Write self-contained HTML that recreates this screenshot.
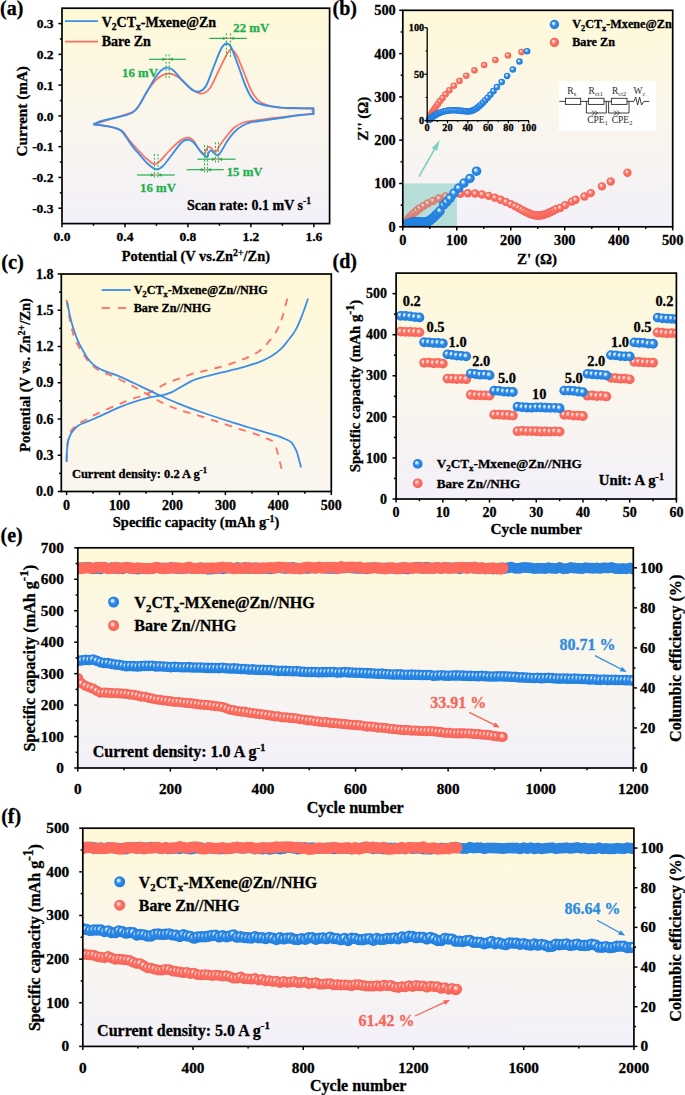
<!DOCTYPE html>
<html><head><meta charset="utf-8"><style>
html,body{margin:0;padding:0;background:#fff;width:685px;height:1095px;overflow:hidden}
svg{display:block}
text{font-family:"Liberation Serif", serif}
</style></head><body>
<svg width="685" height="1095" viewBox="0 0 685 1095">
<defs>
<linearGradient id="gA" x1="0" y1="0" x2="0" y2="1"><stop offset="0" stop-color="#FFF9D8"/><stop offset="0.5" stop-color="#FAF6EC"/><stop offset="1" stop-color="#F3F0FA"/></linearGradient>
<linearGradient id="gC" x1="0" y1="0" x2="0" y2="1"><stop offset="0" stop-color="#FFF8D6"/><stop offset="1" stop-color="#FAF6F0"/></linearGradient>
<radialGradient id="mB" cx="0.5" cy="0.5" r="0.5" fx="0.36" fy="0.34"><stop offset="0" stop-color="#F4FAFF"/><stop offset="0.22" stop-color="#BFDFFF"/><stop offset="0.5" stop-color="#2E8AE6"/><stop offset="1" stop-color="#1F7DDC"/></radialGradient>
<radialGradient id="mR" cx="0.5" cy="0.5" r="0.5" fx="0.36" fy="0.34"><stop offset="0" stop-color="#FFF4F2"/><stop offset="0.22" stop-color="#FFC8C0"/><stop offset="0.5" stop-color="#FF6F62"/><stop offset="1" stop-color="#F2645A"/></radialGradient>
</defs>
<rect x="62" y="8.2" width="267.6" height="215.4" fill="url(#gA)"/>
<path d="M94 124.5 C96.83 123.58 104.5 121.12 111 119 C117.5 116.88 128.17 114.3 133 111.8 C137.83 109.3 137.5 107.63 140 104 C142.5 100.37 145 94.33 148 90 C151 85.67 154.6 80.72 158 78 C161.4 75.28 165.07 73.87 168.4 73.7 C171.73 73.53 174.4 74.62 178 77 C181.6 79.38 186.13 85.23 190 88 C193.87 90.77 197.87 93.6 201.2 93.6 C204.53 93.6 207.03 91.93 210 88 C212.97 84.07 216.33 75.33 219 70 C221.67 64.67 224.08 59.4 226 56 C227.92 52.6 228.83 49.93 230.5 49.6 C232.17 49.27 233.92 50.6 236 54 C238.08 57.4 240.33 63.67 243 70 C245.67 76.33 248.83 86.5 252 92 C255.17 97.5 257 100.33 262 103 C267 105.67 273.58 107.07 282 108 C290.42 108.93 307.42 108.5 312.5 108.6 L312.5 113.8 C307.42 114.33 291.08 115.97 282 117 C272.92 118.03 264.17 119.17 258 120 C251.83 120.83 248.83 120.83 245 122 C241.17 123.17 238.17 124.5 235 127 C231.83 129.5 228.5 134 226 137 C223.5 140 221.72 142.52 220 145 C218.28 147.48 217.2 151.4 215.7 151.9 C214.2 152.4 212.2 148.85 211 148 C209.8 147.15 209.33 146.47 208.5 146.8 C207.67 147.13 206.68 148.8 206 150 C205.32 151.2 205.73 154.33 204.4 154 C203.07 153.67 199.73 150.17 198 148 C196.27 145.83 195.65 142.73 194 141 C192.35 139.27 190.27 137.77 188.1 137.6 C185.93 137.43 184.02 137.93 181 140 C177.98 142.07 173.33 146.67 170 150 C166.67 153.33 163.6 157.63 161 160 C158.4 162.37 156.73 164.37 154.4 164.2 C152.07 164.03 149.73 161.37 147 159 C144.27 156.63 140.83 153 138 150 C135.17 147 132.67 144.17 130 141 C127.33 137.83 125 133.33 122 131 C119 128.67 116.67 128.08 112 127 C107.33 125.92 97 124.92 94 124.5" fill="none" stroke="#FF6F61" stroke-width="1.7" stroke-linejoin="round"/>
<path d="M93.2 124.3 C94.33 123.83 97.05 122.43 100 121.5 C102.95 120.57 107.23 119.58 110.9 118.7 C114.57 117.82 118.38 117.23 122 116.2 C125.62 115.17 129.77 114.28 132.6 112.5 C135.43 110.72 136.73 108.75 139 105.5 C141.27 102.25 143.53 97.58 146.2 93 C148.87 88.42 152.53 81.75 155 78 C157.47 74.25 159.03 72.23 161 70.5 C162.97 68.77 164.8 67.68 166.8 67.6 C168.8 67.52 170.47 67.93 173 70 C175.53 72.07 178.7 76.62 182 80 C185.3 83.38 189.93 88.38 192.8 90.3 C195.67 92.22 197 92.22 199.2 91.5 C201.4 90.78 203.53 90.25 206 86 C208.47 81.75 211.5 72.17 214 66 C216.5 59.83 218.93 52.75 221 49 C223.07 45.25 224.73 43.83 226.4 43.5 C228.07 43.17 229.07 43.42 231 47 C232.93 50.58 235.5 58.33 238 65 C240.5 71.67 243.43 81.17 246 87 C248.57 92.83 250.73 97.08 253.4 100 C256.07 102.92 257.23 103.23 262 104.5 C266.77 105.77 275.67 107 282 107.6 C288.33 108.2 294.73 108 300 108.1 C305.27 108.2 311.33 108.18 313.6 108.2 L313.6 114 C311.33 114.17 305.27 114.37 300 115 C294.73 115.63 287.83 116.92 282 117.8 C276.17 118.68 270.12 119.57 265 120.3 C259.88 121.03 255.13 121.25 251.3 122.2 C247.47 123.15 244.72 124.47 242 126 C239.28 127.53 237.33 129.07 235 131.4 C232.67 133.73 230.17 136.9 228 140 C225.83 143.1 223.67 147.42 222 150 C220.33 152.58 219.33 155 218 155.5 C216.67 156 215.22 153.85 214 153 C212.78 152.15 211.62 150.4 210.7 150.4 C209.78 150.4 209.12 151.9 208.5 153 C207.88 154.1 208.25 157.17 207 157 C205.75 156.83 203 154.17 201 152 C199 149.83 197.03 146.02 195 144 C192.97 141.98 190.97 140.23 188.8 139.9 C186.63 139.57 184.85 139.48 182 142 C179.15 144.52 174.87 151 171.7 155 C168.53 159 165.55 163.62 163 166 C160.45 168.38 158.9 169.63 156.4 169.3 C153.9 168.97 150.73 166.38 148 164 C145.27 161.62 142.52 157.87 140 155 C137.48 152.13 135.23 149.8 132.9 146.8 C130.57 143.8 128.03 139.73 126 137 C123.97 134.27 123.37 132.1 120.7 130.4 C118.03 128.7 114.6 127.82 110 126.8 C105.4 125.78 95.92 124.72 93.1 124.3" fill="none" stroke="#3A8EE6" stroke-width="1.9" stroke-linejoin="round"/>
<line x1="149" y1="59.3" x2="166" y2="59.3" stroke="#22B14C" stroke-width="1.2"/>
<line x1="169.2" y1="59.3" x2="186" y2="59.3" stroke="#22B14C" stroke-width="1.2"/>
<line x1="166" y1="59.3" x2="169.2" y2="59.3" stroke="#F07070" stroke-width="1.2"/>
<path d="M166 59.3 L162.4 57.6 L162.4 61 Z" fill="#22B14C"/>
<path d="M169.2 59.3 L172.8 57.6 L172.8 61 Z" fill="#22B14C"/>
<line x1="166" y1="54.5" x2="166" y2="78.5" stroke="#22B14C" stroke-width="1" stroke-dasharray="2 1.6"/>
<line x1="169.2" y1="54.5" x2="169.2" y2="78.5" stroke="#22B14C" stroke-width="1" stroke-dasharray="2 1.6"/>
<text x="122" y="77" font-size="12.8" text-anchor="start" fill="#22B14C" font-weight="bold" stroke="#22B14C" stroke-width="0.3">16 mV</text>
<line x1="209.4" y1="38.4" x2="226.4" y2="38.4" stroke="#22B14C" stroke-width="1.2"/>
<line x1="230.5" y1="38.4" x2="246.8" y2="38.4" stroke="#22B14C" stroke-width="1.2"/>
<line x1="226.4" y1="38.4" x2="230.5" y2="38.4" stroke="#F07070" stroke-width="1.2"/>
<path d="M226.4 38.4 L222.8 36.7 L222.8 40.1 Z" fill="#22B14C"/>
<path d="M230.5 38.4 L234.1 36.7 L234.1 40.1 Z" fill="#22B14C"/>
<line x1="226.4" y1="33.3" x2="226.4" y2="57.8" stroke="#22B14C" stroke-width="1" stroke-dasharray="2 1.6"/>
<line x1="230.5" y1="33.3" x2="230.5" y2="57.8" stroke="#22B14C" stroke-width="1" stroke-dasharray="2 1.6"/>
<text x="233.3" y="31.9" font-size="12.8" text-anchor="start" fill="#22B14C" font-weight="bold" stroke="#22B14C" stroke-width="0.3">22 mV</text>
<line x1="137" y1="175" x2="154.4" y2="175" stroke="#22B14C" stroke-width="1.2"/>
<line x1="158" y1="175" x2="174.8" y2="175" stroke="#22B14C" stroke-width="1.2"/>
<line x1="154.4" y1="175" x2="158" y2="175" stroke="#F07070" stroke-width="1.2"/>
<path d="M154.4 175 L150.8 173.3 L150.8 176.7 Z" fill="#22B14C"/>
<path d="M158 175 L161.6 173.3 L161.6 176.7 Z" fill="#22B14C"/>
<line x1="154.4" y1="154" x2="154.4" y2="178.5" stroke="#22B14C" stroke-width="1" stroke-dasharray="2 1.6"/>
<line x1="158" y1="154" x2="158" y2="178.5" stroke="#22B14C" stroke-width="1" stroke-dasharray="2 1.6"/>
<text x="140" y="191.7" font-size="12.8" text-anchor="start" fill="#22B14C" font-weight="bold" stroke="#22B14C" stroke-width="0.3">16 mV</text>
<line x1="197.5" y1="159.2" x2="215.5" y2="159.2" stroke="#22B14C" stroke-width="1.2"/>
<line x1="218.4" y1="159.2" x2="235.5" y2="159.2" stroke="#22B14C" stroke-width="1.2"/>
<line x1="215.5" y1="159.2" x2="218.4" y2="159.2" stroke="#F07070" stroke-width="1.2"/>
<path d="M215.5 159.2 L211.9 157.5 L211.9 160.9 Z" fill="#22B14C"/>
<path d="M218.4 159.2 L222 157.5 L222 160.9 Z" fill="#22B14C"/>
<line x1="215.5" y1="142.4" x2="215.5" y2="162.8" stroke="#22B14C" stroke-width="1" stroke-dasharray="2 1.6"/>
<line x1="218.4" y1="142.4" x2="218.4" y2="162.8" stroke="#22B14C" stroke-width="1" stroke-dasharray="2 1.6"/>
<line x1="186.6" y1="169.7" x2="204.5" y2="169.7" stroke="#22B14C" stroke-width="1.2"/>
<line x1="207.4" y1="169.7" x2="223.8" y2="169.7" stroke="#22B14C" stroke-width="1.2"/>
<line x1="204.5" y1="169.7" x2="207.4" y2="169.7" stroke="#F07070" stroke-width="1.2"/>
<path d="M204.5 169.7 L200.9 168 L200.9 171.4 Z" fill="#22B14C"/>
<path d="M207.4 169.7 L211 168 L211 171.4 Z" fill="#22B14C"/>
<line x1="204.5" y1="145.3" x2="204.5" y2="173.8" stroke="#22B14C" stroke-width="1" stroke-dasharray="2 1.6"/>
<line x1="207.4" y1="145.3" x2="207.4" y2="173.8" stroke="#22B14C" stroke-width="1" stroke-dasharray="2 1.6"/>
<text x="226.7" y="175.5" font-size="12.8" text-anchor="start" fill="#22B14C" font-weight="bold" stroke="#22B14C" stroke-width="0.3">15 mV</text>
<line x1="65" y1="21.1" x2="98" y2="21.1" stroke="#3A8EE6" stroke-width="1.9"/>
<text x="101.7" y="26.8" font-size="14" text-anchor="start" fill="#000" font-weight="bold" stroke="#000" stroke-width="0.3">V<tspan dy="3.08" font-size="9.52">2</tspan><tspan dy="-3.08">CT</tspan><tspan dy="3.08" font-size="9.52">x</tspan><tspan dy="-3.08">-Mxene@Zn</tspan></text>
<line x1="65" y1="41.7" x2="98" y2="41.7" stroke="#FF6F61" stroke-width="1.8"/>
<text x="101.7" y="46.3" font-size="14" text-anchor="start" fill="#000" font-weight="bold" stroke="#000" stroke-width="0.3">Bare Zn</text>
<text x="187" y="209.7" font-size="14" text-anchor="start" fill="#000" font-weight="bold" stroke="#000" stroke-width="0.3">Scan rate: 0.1 mV s<tspan dy="-5.32" font-size="9.52">-1</tspan><tspan dy="5.32"></tspan></text>
<rect x="62" y="8.2" width="267.6" height="215.4" fill="none" stroke="#000" stroke-width="1.7"/>
<line x1="62" y1="208.21" x2="58.4" y2="208.21" stroke="#000" stroke-width="1.5"/>
<line x1="62" y1="177.44" x2="58.4" y2="177.44" stroke="#000" stroke-width="1.5"/>
<line x1="62" y1="146.67" x2="58.4" y2="146.67" stroke="#000" stroke-width="1.5"/>
<line x1="62" y1="115.9" x2="58.4" y2="115.9" stroke="#000" stroke-width="1.5"/>
<line x1="62" y1="85.13" x2="58.4" y2="85.13" stroke="#000" stroke-width="1.5"/>
<line x1="62" y1="54.36" x2="58.4" y2="54.36" stroke="#000" stroke-width="1.5"/>
<line x1="62" y1="23.59" x2="58.4" y2="23.59" stroke="#000" stroke-width="1.5"/>
<line x1="62" y1="192.83" x2="59.8" y2="192.83" stroke="#000" stroke-width="1.5"/>
<line x1="62" y1="162.06" x2="59.8" y2="162.06" stroke="#000" stroke-width="1.5"/>
<line x1="62" y1="131.29" x2="59.8" y2="131.29" stroke="#000" stroke-width="1.5"/>
<line x1="62" y1="100.51" x2="59.8" y2="100.51" stroke="#000" stroke-width="1.5"/>
<line x1="62" y1="69.74" x2="59.8" y2="69.74" stroke="#000" stroke-width="1.5"/>
<line x1="62" y1="38.97" x2="59.8" y2="38.97" stroke="#000" stroke-width="1.5"/>
<line x1="62" y1="223.6" x2="62" y2="227.2" stroke="#000" stroke-width="1.5"/>
<line x1="124.96" y1="223.6" x2="124.96" y2="227.2" stroke="#000" stroke-width="1.5"/>
<line x1="187.93" y1="223.6" x2="187.93" y2="227.2" stroke="#000" stroke-width="1.5"/>
<line x1="250.89" y1="223.6" x2="250.89" y2="227.2" stroke="#000" stroke-width="1.5"/>
<line x1="313.86" y1="223.6" x2="313.86" y2="227.2" stroke="#000" stroke-width="1.5"/>
<line x1="93.48" y1="223.6" x2="93.48" y2="225.8" stroke="#000" stroke-width="1.5"/>
<line x1="156.45" y1="223.6" x2="156.45" y2="225.8" stroke="#000" stroke-width="1.5"/>
<line x1="219.41" y1="223.6" x2="219.41" y2="225.8" stroke="#000" stroke-width="1.5"/>
<line x1="282.38" y1="223.6" x2="282.38" y2="225.8" stroke="#000" stroke-width="1.5"/>
<text x="53.5" y="212.81" font-size="13.5" text-anchor="end" fill="#000" font-weight="bold" stroke="#000" stroke-width="0.3">-0.3</text>
<text x="53.5" y="182.04" font-size="13.5" text-anchor="end" fill="#000" font-weight="bold" stroke="#000" stroke-width="0.3">-0.2</text>
<text x="53.5" y="151.27" font-size="13.5" text-anchor="end" fill="#000" font-weight="bold" stroke="#000" stroke-width="0.3">-0.1</text>
<text x="53.5" y="120.5" font-size="13.5" text-anchor="end" fill="#000" font-weight="bold" stroke="#000" stroke-width="0.3">0.0</text>
<text x="53.5" y="89.73" font-size="13.5" text-anchor="end" fill="#000" font-weight="bold" stroke="#000" stroke-width="0.3">0.1</text>
<text x="53.5" y="58.96" font-size="13.5" text-anchor="end" fill="#000" font-weight="bold" stroke="#000" stroke-width="0.3">0.2</text>
<text x="53.5" y="28.19" font-size="13.5" text-anchor="end" fill="#000" font-weight="bold" stroke="#000" stroke-width="0.3">0.3</text>
<text x="62" y="241.3" font-size="13.5" text-anchor="middle" fill="#000" font-weight="bold" stroke="#000" stroke-width="0.3">0.0</text>
<text x="124.96" y="241.3" font-size="13.5" text-anchor="middle" fill="#000" font-weight="bold" stroke="#000" stroke-width="0.3">0.4</text>
<text x="187.93" y="241.3" font-size="13.5" text-anchor="middle" fill="#000" font-weight="bold" stroke="#000" stroke-width="0.3">0.8</text>
<text x="250.89" y="241.3" font-size="13.5" text-anchor="middle" fill="#000" font-weight="bold" stroke="#000" stroke-width="0.3">1.2</text>
<text x="313.86" y="241.3" font-size="13.5" text-anchor="middle" fill="#000" font-weight="bold" stroke="#000" stroke-width="0.3">1.6</text>
<text x="27.3" y="111.3" font-size="15.2" text-anchor="middle" fill="#000" font-weight="bold" stroke="#000" stroke-width="0.3" transform="rotate(-90 27.3 111.3)">Current (mA)</text>
<text x="195.9" y="261.2" font-size="14.4" text-anchor="middle" fill="#000" font-weight="bold" stroke="#000" stroke-width="0.3">Potential (V vs.Zn<tspan dy="-5.47" font-size="9.79">2+</tspan><tspan dy="5.47">/Zn)</tspan></text>
<text x="0" y="14.6" font-size="20" text-anchor="start" fill="#000" font-weight="bold" stroke="#000" stroke-width="0.3">(a)</text>
<rect x="402.8" y="10.3" width="269.9" height="216.5" fill="url(#gA)"/>
<clipPath id="cpB"><rect x="402.8" y="10.3" width="269.9" height="216.5"/></clipPath>
<g clip-path="url(#cpB)">
<rect x="402.8" y="183.5" width="53.98" height="43.3" fill="#C9E4E0"/>
<g fill="url(#mR)">
<circle cx="404.38" cy="224.59" r="4.2"/>
<circle cx="404.64" cy="224.21" r="4.2"/>
<circle cx="404.94" cy="223.77" r="4.2"/>
<circle cx="405.3" cy="223.24" r="4.2"/>
<circle cx="405.73" cy="222.63" r="4.2"/>
<circle cx="406.25" cy="221.91" r="4.2"/>
<circle cx="406.87" cy="221.07" r="4.2"/>
<circle cx="407.61" cy="220.1" r="4.2"/>
<circle cx="408.51" cy="218.98" r="4.2"/>
<circle cx="409.61" cy="217.68" r="4.2"/>
<circle cx="410.94" cy="216.2" r="4.2"/>
<circle cx="412.57" cy="214.52" r="4.2"/>
<circle cx="414.57" cy="212.63" r="4.2"/>
<circle cx="417" cy="210.54" r="4.2"/>
<circle cx="419.98" cy="208.26" r="4.2"/>
<circle cx="423.59" cy="205.85" r="4.2"/>
<circle cx="427.93" cy="203.35" r="4.2"/>
<circle cx="433.08" cy="200.87" r="4.2"/>
<circle cx="439.05" cy="198.52" r="4.2"/>
<circle cx="445.76" cy="196.46" r="4.2"/>
<circle cx="452.99" cy="194.82" r="4.2"/>
<circle cx="460.44" cy="193.74" r="4.2"/>
<circle cx="467.87" cy="193.31" r="4.2"/>
<circle cx="475.09" cy="193.55" r="4.2"/>
<circle cx="482.03" cy="194.43" r="4.2"/>
<circle cx="488.65" cy="195.85" r="4.2"/>
<circle cx="494.88" cy="197.67" r="4.2"/>
<circle cx="500.67" cy="199.74" r="4.2"/>
<circle cx="505.96" cy="201.92" r="4.2"/>
<circle cx="510.71" cy="204.09" r="4.2"/>
<circle cx="514.91" cy="206.15" r="4.2"/>
<circle cx="518.57" cy="208.04" r="4.2"/>
<circle cx="521.75" cy="209.74" r="4.2"/>
<circle cx="524.53" cy="211.2" r="4.2"/>
<circle cx="526.97" cy="212.44" r="4.2"/>
<circle cx="529.15" cy="213.45" r="4.2"/>
<circle cx="531.13" cy="214.25" r="4.2"/>
<circle cx="532.96" cy="214.85" r="4.2"/>
<circle cx="534.69" cy="215.26" r="4.2"/>
<circle cx="536.36" cy="215.49" r="4.2"/>
<circle cx="537.98" cy="215.57" r="4.2"/>
<circle cx="539.59" cy="215.5" r="4.2"/>
<circle cx="541.21" cy="215.29" r="4.2"/>
<circle cx="542.86" cy="214.94" r="4.2"/>
<circle cx="544.54" cy="214.47" r="4.2"/>
<circle cx="546.28" cy="213.88" r="4.2"/>
<circle cx="548.09" cy="213.16" r="4.2"/>
<circle cx="550" cy="212.32" r="4.2"/>
<circle cx="552.01" cy="211.37" r="4.2"/>
<circle cx="554.17" cy="210.28" r="4.2"/>
<circle cx="556.51" cy="209.07" r="4.2"/>
<circle cx="560.21" cy="208.01" r="4.2"/>
<circle cx="565.12" cy="205.11" r="4.2"/>
<circle cx="571.92" cy="201.6" r="4.2"/>
<circle cx="575.59" cy="199.82" r="4.2"/>
<circle cx="584.44" cy="196.53" r="4.2"/>
<circle cx="590.81" cy="193.11" r="4.2"/>
<circle cx="601.93" cy="186.4" r="4.2"/>
<circle cx="610.73" cy="181.51" r="4.2"/>
<circle cx="627.46" cy="172.68" r="4.2"/>
</g>
<rect x="402.8" y="183.5" width="53.98" height="43.3" fill="#7FC8BE" fill-opacity="0.25"/>
<g fill="url(#mB)">
<circle cx="403.79" cy="226.41" r="4.8"/>
<circle cx="403.85" cy="226.36" r="4.8"/>
<circle cx="403.91" cy="226.3" r="4.8"/>
<circle cx="403.99" cy="226.23" r="4.8"/>
<circle cx="404.07" cy="226.16" r="4.8"/>
<circle cx="404.17" cy="226.07" r="4.8"/>
<circle cx="404.28" cy="225.98" r="4.8"/>
<circle cx="404.41" cy="225.88" r="4.8"/>
<circle cx="404.55" cy="225.76" r="4.8"/>
<circle cx="404.72" cy="225.63" r="4.8"/>
<circle cx="404.91" cy="225.49" r="4.8"/>
<circle cx="405.12" cy="225.33" r="4.8"/>
<circle cx="405.37" cy="225.16" r="4.8"/>
<circle cx="405.65" cy="224.97" r="4.8"/>
<circle cx="405.96" cy="224.77" r="4.8"/>
<circle cx="406.32" cy="224.55" r="4.8"/>
<circle cx="406.72" cy="224.33" r="4.8"/>
<circle cx="407.17" cy="224.09" r="4.8"/>
<circle cx="407.68" cy="223.84" r="4.8"/>
<circle cx="408.24" cy="223.58" r="4.8"/>
<circle cx="408.86" cy="223.33" r="4.8"/>
<circle cx="409.54" cy="223.08" r="4.8"/>
<circle cx="410.28" cy="222.84" r="4.8"/>
<circle cx="411.08" cy="222.62" r="4.8"/>
<circle cx="411.93" cy="222.42" r="4.8"/>
<circle cx="412.83" cy="222.25" r="4.8"/>
<circle cx="413.76" cy="222.12" r="4.8"/>
<circle cx="414.72" cy="222.02" r="4.8"/>
<circle cx="415.69" cy="221.96" r="4.8"/>
<circle cx="416.67" cy="221.94" r="4.8"/>
<circle cx="417.63" cy="221.95" r="4.8"/>
<circle cx="418.58" cy="222" r="4.8"/>
<circle cx="419.5" cy="222.06" r="4.8"/>
<circle cx="420.38" cy="222.14" r="4.8"/>
<circle cx="421.22" cy="222.23" r="4.8"/>
<circle cx="422.03" cy="222.31" r="4.8"/>
<circle cx="422.79" cy="222.38" r="4.8"/>
<circle cx="423.52" cy="222.43" r="4.8"/>
<circle cx="424.22" cy="222.45" r="4.8"/>
<circle cx="424.9" cy="222.44" r="4.8"/>
<circle cx="425.56" cy="222.37" r="4.8"/>
<circle cx="426.21" cy="222.26" r="4.8"/>
<circle cx="426.87" cy="222.08" r="4.8"/>
<circle cx="427.54" cy="221.83" r="4.8"/>
<circle cx="428.23" cy="221.5" r="4.8"/>
<circle cx="428.96" cy="221.09" r="4.8"/>
<circle cx="429.75" cy="220.58" r="4.8"/>
<circle cx="430.59" cy="219.96" r="4.8"/>
<circle cx="431.52" cy="219.22" r="4.8"/>
<circle cx="432.54" cy="218.34" r="4.8"/>
<circle cx="433.68" cy="217.31" r="4.8"/>
<circle cx="434.96" cy="216.1" r="4.8"/>
<circle cx="436.4" cy="214.68" r="4.8"/>
<circle cx="438.02" cy="213.04" r="4.8"/>
<circle cx="439.87" cy="211.14" r="4.8"/>
<circle cx="443.61" cy="204.98" r="4.8"/>
<circle cx="446.69" cy="201.9" r="4.8"/>
<circle cx="449.98" cy="198.31" r="4.8"/>
<circle cx="454.08" cy="193.2" r="4.8"/>
<circle cx="458.67" cy="188.13" r="4.8"/>
<circle cx="463.96" cy="183.02" r="4.8"/>
<circle cx="469.95" cy="178.43" r="4.8"/>
<circle cx="476.54" cy="171.2" r="4.8"/>
</g>
</g>
<line x1="419" y1="176.7" x2="435.5" y2="147.5" stroke="#80D0C0" stroke-width="1.6"/>
<path d="M439.8 139.9 L431.9 148.1 L437.2 150.7 Z" fill="#80D0C0"/>
<g fill="url(#mR)">
<circle cx="430.18" cy="115.96" r="3.3"/>
<circle cx="430.66" cy="115.14" r="3.3"/>
<circle cx="431.23" cy="114.18" r="3.3"/>
<circle cx="431.91" cy="113.06" r="3.3"/>
<circle cx="432.72" cy="111.74" r="3.3"/>
<circle cx="433.69" cy="110.2" r="3.3"/>
<circle cx="434.85" cy="108.4" r="3.3"/>
<circle cx="436.25" cy="106.31" r="3.3"/>
<circle cx="437.95" cy="103.9" r="3.3"/>
<circle cx="440.01" cy="101.11" r="3.3"/>
<circle cx="442.51" cy="97.93" r="3.3"/>
<circle cx="445.58" cy="94.32" r="3.3"/>
<circle cx="449.33" cy="90.26" r="3.3"/>
<circle cx="453.91" cy="85.77" r="3.3"/>
<circle cx="459.5" cy="80.89" r="3.3"/>
<circle cx="466.28" cy="75.7" r="3.3"/>
<circle cx="474.45" cy="70.33" r="3.3"/>
<circle cx="484.14" cy="65" r="3.3"/>
<circle cx="495.37" cy="59.96" r="3.3"/>
<circle cx="507.97" cy="55.52" r="3.3"/>
<circle cx="521.56" cy="52.01" r="3.3"/>
</g>
<g fill="url(#mB)">
<circle cx="429.06" cy="119.86" r="3.3"/>
<circle cx="429.17" cy="119.75" r="3.3"/>
<circle cx="429.29" cy="119.62" r="3.3"/>
<circle cx="429.43" cy="119.48" r="3.3"/>
<circle cx="429.59" cy="119.32" r="3.3"/>
<circle cx="429.78" cy="119.14" r="3.3"/>
<circle cx="429.99" cy="118.94" r="3.3"/>
<circle cx="430.23" cy="118.72" r="3.3"/>
<circle cx="430.5" cy="118.47" r="3.3"/>
<circle cx="430.81" cy="118.19" r="3.3"/>
<circle cx="431.16" cy="117.88" r="3.3"/>
<circle cx="431.57" cy="117.54" r="3.3"/>
<circle cx="432.03" cy="117.18" r="3.3"/>
<circle cx="432.55" cy="116.77" r="3.3"/>
<circle cx="433.14" cy="116.34" r="3.3"/>
<circle cx="433.81" cy="115.88" r="3.3"/>
<circle cx="434.57" cy="115.39" r="3.3"/>
<circle cx="435.42" cy="114.87" r="3.3"/>
<circle cx="436.37" cy="114.34" r="3.3"/>
<circle cx="437.42" cy="113.79" r="3.3"/>
<circle cx="438.59" cy="113.25" r="3.3"/>
<circle cx="439.87" cy="112.71" r="3.3"/>
<circle cx="441.27" cy="112.2" r="3.3"/>
<circle cx="442.77" cy="111.72" r="3.3"/>
<circle cx="444.37" cy="111.3" r="3.3"/>
<circle cx="446.05" cy="110.94" r="3.3"/>
<circle cx="447.81" cy="110.65" r="3.3"/>
<circle cx="449.61" cy="110.44" r="3.3"/>
<circle cx="451.44" cy="110.31" r="3.3"/>
<circle cx="453.28" cy="110.26" r="3.3"/>
<circle cx="455.09" cy="110.29" r="3.3"/>
<circle cx="456.87" cy="110.39" r="3.3"/>
<circle cx="458.59" cy="110.53" r="3.3"/>
<circle cx="460.25" cy="110.7" r="3.3"/>
<circle cx="461.84" cy="110.89" r="3.3"/>
<circle cx="463.35" cy="111.06" r="3.3"/>
<circle cx="464.79" cy="111.22" r="3.3"/>
<circle cx="466.16" cy="111.32" r="3.3"/>
<circle cx="467.48" cy="111.37" r="3.3"/>
<circle cx="468.75" cy="111.33" r="3.3"/>
<circle cx="469.99" cy="111.19" r="3.3"/>
<circle cx="471.22" cy="110.94" r="3.3"/>
<circle cx="472.46" cy="110.56" r="3.3"/>
<circle cx="473.72" cy="110.03" r="3.3"/>
<circle cx="475.02" cy="109.33" r="3.3"/>
<circle cx="476.4" cy="108.44" r="3.3"/>
<circle cx="477.87" cy="107.35" r="3.3"/>
<circle cx="479.46" cy="106.02" r="3.3"/>
<circle cx="481.2" cy="104.43" r="3.3"/>
<circle cx="483.12" cy="102.54" r="3.3"/>
<circle cx="485.26" cy="100.31" r="3.3"/>
<circle cx="487.66" cy="97.71" r="3.3"/>
<circle cx="490.37" cy="94.68" r="3.3"/>
<circle cx="493.43" cy="91.15" r="3.3"/>
<circle cx="496.91" cy="87.07" r="3.3"/>
<circle cx="501.7" cy="82.11" r="3.3"/>
<circle cx="507.18" cy="75.97" r="3.3"/>
<circle cx="512.87" cy="69.55" r="3.3"/>
<circle cx="519.46" cy="61.55" r="3.3"/>
<circle cx="527.08" cy="51.23" r="3.3"/>
</g>
<path d="M427.2 27.7 L427.2 120.7 L529 120.7" fill="none" stroke="#000" stroke-width="1.3"/>
<line x1="427.2" y1="120.7" x2="424.4" y2="120.7" stroke="#000" stroke-width="1.2"/>
<text x="424.2" y="124.2" font-size="10.3" text-anchor="end" fill="#000" font-weight="bold" stroke="#000" stroke-width="0.3">0</text>
<line x1="427.2" y1="74.2" x2="424.4" y2="74.2" stroke="#000" stroke-width="1.2"/>
<text x="424.2" y="77.7" font-size="10.3" text-anchor="end" fill="#000" font-weight="bold" stroke="#000" stroke-width="0.3">50</text>
<line x1="427.2" y1="27.7" x2="424.4" y2="27.7" stroke="#000" stroke-width="1.2"/>
<text x="424.2" y="31.2" font-size="10.3" text-anchor="end" fill="#000" font-weight="bold" stroke="#000" stroke-width="0.3">100</text>
<line x1="427.2" y1="97.45" x2="425.5" y2="97.45" stroke="#000" stroke-width="1"/>
<line x1="427.2" y1="50.95" x2="425.5" y2="50.95" stroke="#000" stroke-width="1"/>
<line x1="427.2" y1="120.7" x2="427.2" y2="123.3" stroke="#000" stroke-width="1.2"/>
<text x="427.2" y="131.2" font-size="10.3" text-anchor="middle" fill="#000" font-weight="bold" stroke="#000" stroke-width="0.3">0</text>
<line x1="447.5" y1="120.7" x2="447.5" y2="123.3" stroke="#000" stroke-width="1.2"/>
<text x="447.5" y="131.2" font-size="10.3" text-anchor="middle" fill="#000" font-weight="bold" stroke="#000" stroke-width="0.3">20</text>
<line x1="467.8" y1="120.7" x2="467.8" y2="123.3" stroke="#000" stroke-width="1.2"/>
<text x="467.8" y="131.2" font-size="10.3" text-anchor="middle" fill="#000" font-weight="bold" stroke="#000" stroke-width="0.3">40</text>
<line x1="488.1" y1="120.7" x2="488.1" y2="123.3" stroke="#000" stroke-width="1.2"/>
<text x="488.1" y="131.2" font-size="10.3" text-anchor="middle" fill="#000" font-weight="bold" stroke="#000" stroke-width="0.3">60</text>
<line x1="508.4" y1="120.7" x2="508.4" y2="123.3" stroke="#000" stroke-width="1.2"/>
<text x="508.4" y="131.2" font-size="10.3" text-anchor="middle" fill="#000" font-weight="bold" stroke="#000" stroke-width="0.3">80</text>
<line x1="528.7" y1="120.7" x2="528.7" y2="123.3" stroke="#000" stroke-width="1.2"/>
<text x="528.7" y="131.2" font-size="10.3" text-anchor="middle" fill="#000" font-weight="bold" stroke="#000" stroke-width="0.3">100</text>
<line x1="437.35" y1="120.7" x2="437.35" y2="122.2" stroke="#000" stroke-width="1"/>
<line x1="457.65" y1="120.7" x2="457.65" y2="122.2" stroke="#000" stroke-width="1"/>
<line x1="477.95" y1="120.7" x2="477.95" y2="122.2" stroke="#000" stroke-width="1"/>
<line x1="498.25" y1="120.7" x2="498.25" y2="122.2" stroke="#000" stroke-width="1"/>
<line x1="518.55" y1="120.7" x2="518.55" y2="122.2" stroke="#000" stroke-width="1"/>
<rect x="558.8" y="81.1" width="97.4" height="49.9" fill="#fff"/>
<g stroke="#2A2A2A" stroke-width="0.9" fill="none">
<path d="M559.3 101.4 H565.4 M580.7 101.4 H588.4 M604 101.4 H611.4 M627 101.4 H634 M643.9 101.4 H649.3"/>
<rect x="565.4" y="98.3" width="15.3" height="6.1"/>
<rect x="588.4" y="98.3" width="15.6" height="6.1"/>
<rect x="611.4" y="98.3" width="15.6" height="6.1"/>
<path d="M634 101.4 L635.6 97 L637.6 105 L639.6 97 L641.6 105 L643.9 101.4"/>
<path d="M586.4 101.4 V113 H606.3 V101.4 M608.6 101.4 V113 H629 V101.4"/>
<path d="M592 110.5 L594.5 113 L592 115.5 M595 110.5 L597.5 113 L595 115.5 M614 110.5 L616.5 113 L614 115.5 M617 110.5 L619.5 113 L617 115.5"/>
</g>
<text x="567.3" y="94.2" font-size="9.5" fill="#2A2A2A" font-weight="normal">R<tspan dy="2" font-size="6.5">s</tspan></text>
<text x="588.6" y="94.2" font-size="9.5" fill="#2A2A2A" font-weight="normal">R<tspan dy="2" font-size="6.5">ct1</tspan></text>
<text x="612" y="94.2" font-size="9.5" fill="#2A2A2A" font-weight="normal">R<tspan dy="2" font-size="6.5">ct2</tspan></text>
<text x="633.5" y="94.2" font-size="9.5" fill="#2A2A2A" font-weight="normal">W<tspan dy="2" font-size="6.5">c</tspan></text>
<text x="587.2" y="123.3" font-size="9.5" fill="#2A2A2A" font-weight="normal">CPE<tspan dy="2" font-size="6.5">1</tspan></text>
<text x="611.7" y="123.3" font-size="9.5" fill="#2A2A2A" font-weight="normal">CPE<tspan dy="2" font-size="6.5">2</tspan></text>
<circle cx="554.4" cy="24.5" r="4.7" fill="url(#mB)"/>
<circle cx="554.4" cy="42.5" r="4.7" fill="url(#mR)"/>
<text x="572.2" y="28.3" font-size="12.2" text-anchor="start" fill="#000" font-weight="bold" stroke="#000" stroke-width="0.3">V<tspan dy="2.68" font-size="8.3">2</tspan><tspan dy="-2.68">CT</tspan><tspan dy="2.68" font-size="8.3">x</tspan><tspan dy="-2.68">-Mxene@Zn</tspan></text>
<text x="572.2" y="46.3" font-size="12.2" text-anchor="start" fill="#000" font-weight="bold" stroke="#000" stroke-width="0.3">Bare Zn</text>
<rect x="402.8" y="10.3" width="269.9" height="216.5" fill="none" stroke="#000" stroke-width="1.7"/>
<line x1="402.8" y1="226.8" x2="399.2" y2="226.8" stroke="#000" stroke-width="1.5"/>
<line x1="402.8" y1="183.5" x2="399.2" y2="183.5" stroke="#000" stroke-width="1.5"/>
<line x1="402.8" y1="140.2" x2="399.2" y2="140.2" stroke="#000" stroke-width="1.5"/>
<line x1="402.8" y1="96.9" x2="399.2" y2="96.9" stroke="#000" stroke-width="1.5"/>
<line x1="402.8" y1="53.6" x2="399.2" y2="53.6" stroke="#000" stroke-width="1.5"/>
<line x1="402.8" y1="10.3" x2="399.2" y2="10.3" stroke="#000" stroke-width="1.5"/>
<line x1="402.8" y1="205.15" x2="400.6" y2="205.15" stroke="#000" stroke-width="1.5"/>
<line x1="402.8" y1="161.85" x2="400.6" y2="161.85" stroke="#000" stroke-width="1.5"/>
<line x1="402.8" y1="118.55" x2="400.6" y2="118.55" stroke="#000" stroke-width="1.5"/>
<line x1="402.8" y1="75.25" x2="400.6" y2="75.25" stroke="#000" stroke-width="1.5"/>
<line x1="402.8" y1="31.95" x2="400.6" y2="31.95" stroke="#000" stroke-width="1.5"/>
<line x1="402.8" y1="226.8" x2="402.8" y2="230.4" stroke="#000" stroke-width="1.5"/>
<line x1="456.78" y1="226.8" x2="456.78" y2="230.4" stroke="#000" stroke-width="1.5"/>
<line x1="510.76" y1="226.8" x2="510.76" y2="230.4" stroke="#000" stroke-width="1.5"/>
<line x1="564.74" y1="226.8" x2="564.74" y2="230.4" stroke="#000" stroke-width="1.5"/>
<line x1="618.72" y1="226.8" x2="618.72" y2="230.4" stroke="#000" stroke-width="1.5"/>
<line x1="672.7" y1="226.8" x2="672.7" y2="230.4" stroke="#000" stroke-width="1.5"/>
<line x1="429.79" y1="226.8" x2="429.79" y2="229" stroke="#000" stroke-width="1.5"/>
<line x1="483.77" y1="226.8" x2="483.77" y2="229" stroke="#000" stroke-width="1.5"/>
<line x1="537.75" y1="226.8" x2="537.75" y2="229" stroke="#000" stroke-width="1.5"/>
<line x1="591.73" y1="226.8" x2="591.73" y2="229" stroke="#000" stroke-width="1.5"/>
<line x1="645.71" y1="226.8" x2="645.71" y2="229" stroke="#000" stroke-width="1.5"/>
<text x="395.7" y="231.7" font-size="14.3" text-anchor="end" fill="#000" font-weight="bold" stroke="#000" stroke-width="0.3">0</text>
<text x="402.8" y="245" font-size="14.3" text-anchor="middle" fill="#000" font-weight="bold" stroke="#000" stroke-width="0.3">0</text>
<text x="395.7" y="188.4" font-size="14.3" text-anchor="end" fill="#000" font-weight="bold" stroke="#000" stroke-width="0.3">100</text>
<text x="456.78" y="245" font-size="14.3" text-anchor="middle" fill="#000" font-weight="bold" stroke="#000" stroke-width="0.3">100</text>
<text x="395.7" y="145.1" font-size="14.3" text-anchor="end" fill="#000" font-weight="bold" stroke="#000" stroke-width="0.3">200</text>
<text x="510.76" y="245" font-size="14.3" text-anchor="middle" fill="#000" font-weight="bold" stroke="#000" stroke-width="0.3">200</text>
<text x="395.7" y="101.8" font-size="14.3" text-anchor="end" fill="#000" font-weight="bold" stroke="#000" stroke-width="0.3">300</text>
<text x="564.74" y="245" font-size="14.3" text-anchor="middle" fill="#000" font-weight="bold" stroke="#000" stroke-width="0.3">300</text>
<text x="395.7" y="58.5" font-size="14.3" text-anchor="end" fill="#000" font-weight="bold" stroke="#000" stroke-width="0.3">400</text>
<text x="618.72" y="245" font-size="14.3" text-anchor="middle" fill="#000" font-weight="bold" stroke="#000" stroke-width="0.3">400</text>
<text x="395.7" y="15.2" font-size="14.3" text-anchor="end" fill="#000" font-weight="bold" stroke="#000" stroke-width="0.3">500</text>
<text x="672.7" y="245" font-size="14.3" text-anchor="middle" fill="#000" font-weight="bold" stroke="#000" stroke-width="0.3">500</text>
<text x="368.2" y="118.7" font-size="15" text-anchor="middle" fill="#000" font-weight="bold" stroke="#000" stroke-width="0.3" transform="rotate(-90 368.2 118.7)">Z'' (&#937;)</text>
<text x="537" y="264" font-size="15" text-anchor="middle" fill="#000" font-weight="bold" stroke="#000" stroke-width="0.3">Z' (&#937;)</text>
<text x="332.5" y="15" font-size="20" text-anchor="start" fill="#000" font-weight="bold" stroke="#000" stroke-width="0.3">(b)</text>
<rect x="61.3" y="274" width="270" height="217.5" fill="url(#gC)"/>
<g fill="none" stroke-width="1.8" stroke-linejoin="round">
<path d="M66.59 461.29 C66.66 459.08 66.72 451.87 67.02 448 C67.32 444.13 67.58 441.11 68.39 438.09 C69.21 435.07 70.29 432.21 71.89 429.88 C73.49 427.54 75.77 425.69 77.98 424.07 C80.18 422.46 82.22 421.78 85.12 420.21 C88.03 418.64 90.75 416.91 95.39 414.65 C100.04 412.39 107.16 409.17 112.97 406.68 C118.79 404.18 124.47 401.88 130.28 399.67 C136.1 397.45 142.03 396.02 147.86 393.38 C153.69 390.75 160.91 386.01 165.28 383.84 C169.64 381.66 171.1 381.42 174.06 380.33 C177.03 379.25 180.06 378.4 183.06 377.31 C186.06 376.23 189.19 374.71 192.06 373.81 C194.94 372.9 195.29 373.1 200.32 371.88 C205.35 370.65 215.85 368.25 222.24 366.44 C228.63 364.62 233.98 362.71 238.65 361 C243.33 359.29 246.77 357.88 250.3 356.17 C253.83 354.45 256.92 352.94 259.83 350.73 C262.74 348.51 264.86 346.4 267.77 342.88 C270.68 339.35 274.83 334.01 277.3 329.58 C279.77 325.15 280.92 321.53 282.59 316.29 C284.27 311.06 286.56 301.19 287.36 298.17" stroke="#FF6F61" stroke-dasharray="7.5 7"/>
<path d="M66.59 299.86 C67.04 302.6 68.3 311.18 69.24 316.29 C70.19 321.41 71.11 326.32 72.26 330.55 C73.41 334.78 74.38 337.88 76.12 341.67 C77.87 345.45 80.36 349.64 82.74 353.27 C85.12 356.89 87.64 360.52 90.42 363.42 C93.2 366.32 95.45 368.45 99.42 370.67 C103.39 372.88 108.86 374.23 114.24 376.71 C119.62 379.19 126.42 382.71 131.71 385.53 C137.01 388.35 140.89 390.75 146.01 393.62 C151.12 396.5 157.12 400.19 162.42 402.81 C167.71 405.43 171.45 407.12 177.77 409.33 C184.09 411.55 190.97 413.12 200.32 416.1 C209.68 419.08 224.41 424.12 233.89 427.22 C243.36 430.32 251.01 432.53 257.18 434.71 C263.36 436.88 268.04 438.66 270.95 440.27 C273.86 441.88 273.59 442.48 274.65 444.38 C275.71 446.27 276.51 449.01 277.3 451.62 C278.09 454.24 278.71 457.22 279.42 460.08 C280.12 462.94 281.18 467.33 281.54 468.78" stroke="#FF6F61" stroke-dasharray="7.5 7"/>
<path d="M66.59 462.02 C66.66 460.08 66.72 454.1 67.02 450.42 C67.32 446.73 67.58 442.93 68.39 439.9 C69.21 436.88 70.29 434.65 71.89 432.29 C73.49 429.94 75.77 427.4 77.98 425.77 C80.18 424.14 82.22 423.75 85.12 422.5 C88.03 421.26 90.75 420.35 95.39 418.27 C100.04 416.2 107.16 412.58 112.97 410.06 C118.79 407.54 124.47 405.2 130.28 403.17 C136.1 401.14 142.61 399.14 147.86 397.85 C153.11 396.57 157.68 396.44 161.78 395.44 C165.89 394.43 169.41 393.16 172.48 391.81 C175.54 390.46 176.89 389.15 180.15 387.34 C183.42 385.53 188.7 382.51 192.06 380.94 C195.43 379.37 195.29 379.33 200.32 377.92 C205.35 376.51 215.41 374.19 222.24 372.48 C229.07 370.77 235.48 369.26 241.3 367.65 C247.12 366.03 252.33 364.62 257.18 362.81 C262.04 361 266.45 359.09 270.42 356.77 C274.39 354.45 277.92 351.84 281.01 348.92 C284.09 346 286.48 342.47 288.95 339.25 C291.42 336.03 293.62 333.61 295.83 329.58 C298.04 325.56 300.15 320.26 302.18 315.08 C304.21 309.91 307.04 301.29 308.01 298.53" stroke="#3A8EE6"/>
<path d="M67.12 301.67 C67.65 304.31 69.15 312.69 70.3 317.5 C71.45 322.31 72.68 326.52 74.01 330.55 C75.33 334.58 76.79 338.4 78.24 341.67 C79.7 344.93 81.15 347.31 82.74 350.12 C84.33 352.94 86.01 356.17 87.77 358.58 C89.54 361 91.12 362.81 93.33 364.62 C95.54 366.44 98.4 368.15 101.01 369.46 C103.61 370.77 105.51 371.17 108.95 372.48 C112.39 373.79 116.36 375 121.65 377.31 C126.95 379.63 134.27 383.31 140.71 386.38 C147.15 389.44 154.12 392.86 160.3 395.68 C166.48 398.5 171.1 400.61 177.77 403.29 C184.44 405.97 190.97 408.49 200.32 411.75 C209.68 415.01 224.41 419.85 233.89 422.87 C243.36 425.89 249.89 427.7 257.18 429.88 C264.48 432.05 272.82 434.31 277.67 435.92 C282.52 437.53 283.98 438.43 286.3 439.54 C288.62 440.65 289.94 440.75 291.59 442.56 C293.24 444.38 295.05 447.9 296.2 450.42 C297.35 452.93 297.66 454.81 298.48 457.67 C299.3 460.53 300.68 465.92 301.12 467.57" stroke="#3A8EE6"/>
</g>
<line x1="101.6" y1="290" x2="130.8" y2="290" stroke="#3A8EE6" stroke-width="1.8"/>
<text x="133.7" y="294.4" font-size="12.2" text-anchor="start" fill="#000" font-weight="bold" stroke="#000" stroke-width="0.3">V<tspan dy="2.68" font-size="8.3">2</tspan><tspan dy="-2.68">CT</tspan><tspan dy="2.68" font-size="8.3">x</tspan><tspan dy="-2.68">-Mxene@Zn//NHG</tspan></text>
<line x1="101.6" y1="308" x2="110" y2="308" stroke="#FF6F61" stroke-width="1.8"/>
<line x1="118" y1="308" x2="126.3" y2="308" stroke="#FF6F61" stroke-width="1.8"/>
<text x="133.7" y="312.4" font-size="12.2" text-anchor="start" fill="#000" font-weight="bold" stroke="#000" stroke-width="0.3">Bare Zn//NHG</text>
<text x="71.9" y="477.8" font-size="12.5" text-anchor="start" fill="#000" font-weight="bold" stroke="#000" stroke-width="0.3">Current density: 0.2 A g<tspan dy="-4.75" font-size="8.5">-1</tspan><tspan dy="4.75"></tspan></text>
<rect x="61.3" y="274" width="270" height="217.5" fill="none" stroke="#000" stroke-width="1.7"/>
<line x1="61.3" y1="491.5" x2="57.7" y2="491.5" stroke="#000" stroke-width="1.5"/>
<line x1="61.3" y1="455.25" x2="57.7" y2="455.25" stroke="#000" stroke-width="1.5"/>
<line x1="61.3" y1="419" x2="57.7" y2="419" stroke="#000" stroke-width="1.5"/>
<line x1="61.3" y1="382.75" x2="57.7" y2="382.75" stroke="#000" stroke-width="1.5"/>
<line x1="61.3" y1="346.5" x2="57.7" y2="346.5" stroke="#000" stroke-width="1.5"/>
<line x1="61.3" y1="310.25" x2="57.7" y2="310.25" stroke="#000" stroke-width="1.5"/>
<line x1="61.3" y1="274" x2="57.7" y2="274" stroke="#000" stroke-width="1.5"/>
<line x1="61.3" y1="473.38" x2="59.1" y2="473.38" stroke="#000" stroke-width="1.5"/>
<line x1="61.3" y1="437.12" x2="59.1" y2="437.12" stroke="#000" stroke-width="1.5"/>
<line x1="61.3" y1="400.88" x2="59.1" y2="400.88" stroke="#000" stroke-width="1.5"/>
<line x1="61.3" y1="364.62" x2="59.1" y2="364.62" stroke="#000" stroke-width="1.5"/>
<line x1="61.3" y1="328.38" x2="59.1" y2="328.38" stroke="#000" stroke-width="1.5"/>
<line x1="61.3" y1="292.12" x2="59.1" y2="292.12" stroke="#000" stroke-width="1.5"/>
<line x1="66.59" y1="491.5" x2="66.59" y2="495.1" stroke="#000" stroke-width="1.5"/>
<line x1="119.54" y1="491.5" x2="119.54" y2="495.1" stroke="#000" stroke-width="1.5"/>
<line x1="172.48" y1="491.5" x2="172.48" y2="495.1" stroke="#000" stroke-width="1.5"/>
<line x1="225.42" y1="491.5" x2="225.42" y2="495.1" stroke="#000" stroke-width="1.5"/>
<line x1="278.36" y1="491.5" x2="278.36" y2="495.1" stroke="#000" stroke-width="1.5"/>
<line x1="331.3" y1="491.5" x2="331.3" y2="495.1" stroke="#000" stroke-width="1.5"/>
<line x1="93.06" y1="491.5" x2="93.06" y2="493.7" stroke="#000" stroke-width="1.5"/>
<line x1="146.01" y1="491.5" x2="146.01" y2="493.7" stroke="#000" stroke-width="1.5"/>
<line x1="198.95" y1="491.5" x2="198.95" y2="493.7" stroke="#000" stroke-width="1.5"/>
<line x1="251.89" y1="491.5" x2="251.89" y2="493.7" stroke="#000" stroke-width="1.5"/>
<line x1="304.83" y1="491.5" x2="304.83" y2="493.7" stroke="#000" stroke-width="1.5"/>
<text x="53.4" y="496.2" font-size="14" text-anchor="end" fill="#000" font-weight="bold" stroke="#000" stroke-width="0.3">0.0</text>
<text x="53.4" y="459.95" font-size="14" text-anchor="end" fill="#000" font-weight="bold" stroke="#000" stroke-width="0.3">0.3</text>
<text x="53.4" y="423.7" font-size="14" text-anchor="end" fill="#000" font-weight="bold" stroke="#000" stroke-width="0.3">0.6</text>
<text x="53.4" y="387.45" font-size="14" text-anchor="end" fill="#000" font-weight="bold" stroke="#000" stroke-width="0.3">0.9</text>
<text x="53.4" y="351.2" font-size="14" text-anchor="end" fill="#000" font-weight="bold" stroke="#000" stroke-width="0.3">1.2</text>
<text x="53.4" y="314.95" font-size="14" text-anchor="end" fill="#000" font-weight="bold" stroke="#000" stroke-width="0.3">1.5</text>
<text x="53.4" y="278.7" font-size="14" text-anchor="end" fill="#000" font-weight="bold" stroke="#000" stroke-width="0.3">1.8</text>
<text x="66.59" y="510.2" font-size="14" text-anchor="middle" fill="#000" font-weight="bold" stroke="#000" stroke-width="0.3">0</text>
<text x="119.54" y="510.2" font-size="14" text-anchor="middle" fill="#000" font-weight="bold" stroke="#000" stroke-width="0.3">100</text>
<text x="172.48" y="510.2" font-size="14" text-anchor="middle" fill="#000" font-weight="bold" stroke="#000" stroke-width="0.3">200</text>
<text x="225.42" y="510.2" font-size="14" text-anchor="middle" fill="#000" font-weight="bold" stroke="#000" stroke-width="0.3">300</text>
<text x="278.36" y="510.2" font-size="14" text-anchor="middle" fill="#000" font-weight="bold" stroke="#000" stroke-width="0.3">400</text>
<text x="331.3" y="510.2" font-size="14" text-anchor="middle" fill="#000" font-weight="bold" stroke="#000" stroke-width="0.3">500</text>
<text x="30.2" y="375" font-size="14.6" text-anchor="middle" fill="#000" font-weight="bold" stroke="#000" stroke-width="0.3" transform="rotate(-90 30.2 375)">Potential (V vs. Zn<tspan dy="-5.55" font-size="9.93">2+</tspan><tspan dy="5.55">/Zn)</tspan></text>
<text x="196" y="527.1" font-size="14.5" text-anchor="middle" fill="#000" font-weight="bold" stroke="#000" stroke-width="0.3">Specific capacity (mAh g<tspan dy="-5.51" font-size="9.86">-1</tspan><tspan dy="5.51">)</tspan></text>
<text x="1.2" y="268.8" font-size="20.5" text-anchor="start" fill="#000" font-weight="bold" stroke="#000" stroke-width="0.3">(c)</text>
<rect x="396.1" y="273.1" width="280.3" height="225.9" fill="url(#gA)"/>
<clipPath id="cpD"><rect x="396.1" y="273.1" width="280.3" height="225.9"/></clipPath>
<g clip-path="url(#cpD)">
<g fill="url(#mR)">
<circle cx="400.77" cy="331.57" r="4.9"/>
<circle cx="405.44" cy="331.87" r="4.9"/>
<circle cx="410.12" cy="331.92" r="4.9"/>
<circle cx="414.79" cy="332.08" r="4.9"/>
<circle cx="419.46" cy="332.37" r="4.9"/>
<circle cx="424.13" cy="362.83" r="4.9"/>
<circle cx="428.8" cy="362.59" r="4.9"/>
<circle cx="433.47" cy="363.23" r="4.9"/>
<circle cx="438.15" cy="363" r="4.9"/>
<circle cx="442.82" cy="363.61" r="4.9"/>
<circle cx="447.49" cy="378.59" r="4.9"/>
<circle cx="452.16" cy="378.67" r="4.9"/>
<circle cx="456.83" cy="379.03" r="4.9"/>
<circle cx="461.5" cy="378.82" r="4.9"/>
<circle cx="466.18" cy="379.22" r="4.9"/>
<circle cx="470.85" cy="394.76" r="4.9"/>
<circle cx="475.52" cy="395.21" r="4.9"/>
<circle cx="480.19" cy="395.36" r="4.9"/>
<circle cx="484.86" cy="395.46" r="4.9"/>
<circle cx="489.53" cy="395.6" r="4.9"/>
<circle cx="494.2" cy="414.64" r="4.9"/>
<circle cx="498.88" cy="414.63" r="4.9"/>
<circle cx="503.55" cy="414.96" r="4.9"/>
<circle cx="508.22" cy="415.01" r="4.9"/>
<circle cx="512.89" cy="415.64" r="4.9"/>
<circle cx="517.56" cy="431.22" r="4.9"/>
<circle cx="522.24" cy="430.88" r="4.9"/>
<circle cx="526.91" cy="431.14" r="4.9"/>
<circle cx="531.58" cy="431.11" r="4.9"/>
<circle cx="536.25" cy="431.26" r="4.9"/>
<circle cx="540.92" cy="431.52" r="4.9"/>
<circle cx="545.59" cy="431.42" r="4.9"/>
<circle cx="550.26" cy="431.6" r="4.9"/>
<circle cx="554.94" cy="431.36" r="4.9"/>
<circle cx="559.61" cy="431.63" r="4.9"/>
<circle cx="564.28" cy="414.83" r="4.9"/>
<circle cx="568.95" cy="414.89" r="4.9"/>
<circle cx="573.62" cy="415.6" r="4.9"/>
<circle cx="578.29" cy="415.59" r="4.9"/>
<circle cx="582.97" cy="415.98" r="4.9"/>
<circle cx="587.64" cy="395.67" r="4.9"/>
<circle cx="592.31" cy="395.48" r="4.9"/>
<circle cx="596.98" cy="396.07" r="4.9"/>
<circle cx="601.65" cy="395.91" r="4.9"/>
<circle cx="606.33" cy="396.43" r="4.9"/>
<circle cx="611" cy="377.91" r="4.9"/>
<circle cx="615.67" cy="378.17" r="4.9"/>
<circle cx="620.34" cy="378.71" r="4.9"/>
<circle cx="625.01" cy="378.65" r="4.9"/>
<circle cx="629.68" cy="379.38" r="4.9"/>
<circle cx="634.36" cy="361.91" r="4.9"/>
<circle cx="639.03" cy="361.99" r="4.9"/>
<circle cx="643.7" cy="362.38" r="4.9"/>
<circle cx="648.37" cy="362.53" r="4.9"/>
<circle cx="653.04" cy="362.68" r="4.9"/>
<circle cx="657.71" cy="332.45" r="4.9"/>
<circle cx="662.38" cy="332.74" r="4.9"/>
<circle cx="667.06" cy="333.36" r="4.9"/>
<circle cx="671.73" cy="333.13" r="4.9"/>
<circle cx="676.4" cy="333.36" r="4.9"/>
</g>
<g fill="url(#mB)">
<circle cx="400.77" cy="315.81" r="4.9"/>
<circle cx="405.44" cy="315.96" r="4.9"/>
<circle cx="410.12" cy="316.41" r="4.9"/>
<circle cx="414.79" cy="317.09" r="4.9"/>
<circle cx="419.46" cy="317.47" r="4.9"/>
<circle cx="424.13" cy="342.26" r="4.9"/>
<circle cx="428.8" cy="342.4" r="4.9"/>
<circle cx="433.47" cy="342.97" r="4.9"/>
<circle cx="438.15" cy="343" r="4.9"/>
<circle cx="442.82" cy="343.41" r="4.9"/>
<circle cx="447.49" cy="354.36" r="4.9"/>
<circle cx="452.16" cy="354.8" r="4.9"/>
<circle cx="456.83" cy="355.64" r="4.9"/>
<circle cx="461.5" cy="355.91" r="4.9"/>
<circle cx="466.18" cy="356.36" r="4.9"/>
<circle cx="470.85" cy="373.55" r="4.9"/>
<circle cx="475.52" cy="373.98" r="4.9"/>
<circle cx="480.19" cy="374.67" r="4.9"/>
<circle cx="484.86" cy="374.64" r="4.9"/>
<circle cx="489.53" cy="375.25" r="4.9"/>
<circle cx="494.2" cy="390.68" r="4.9"/>
<circle cx="498.88" cy="390.83" r="4.9"/>
<circle cx="503.55" cy="391.56" r="4.9"/>
<circle cx="508.22" cy="391.74" r="4.9"/>
<circle cx="512.89" cy="391.98" r="4.9"/>
<circle cx="517.56" cy="406.72" r="4.9"/>
<circle cx="522.24" cy="407.21" r="4.9"/>
<circle cx="526.91" cy="407.52" r="4.9"/>
<circle cx="531.58" cy="407.72" r="4.9"/>
<circle cx="536.25" cy="407.37" r="4.9"/>
<circle cx="540.92" cy="407.43" r="4.9"/>
<circle cx="545.59" cy="407.68" r="4.9"/>
<circle cx="550.26" cy="407.88" r="4.9"/>
<circle cx="554.94" cy="407.84" r="4.9"/>
<circle cx="559.61" cy="408.21" r="4.9"/>
<circle cx="564.28" cy="390.61" r="4.9"/>
<circle cx="568.95" cy="390.59" r="4.9"/>
<circle cx="573.62" cy="390.85" r="4.9"/>
<circle cx="578.29" cy="391.51" r="4.9"/>
<circle cx="582.97" cy="392.11" r="4.9"/>
<circle cx="587.64" cy="373.82" r="4.9"/>
<circle cx="592.31" cy="374.26" r="4.9"/>
<circle cx="596.98" cy="374.59" r="4.9"/>
<circle cx="601.65" cy="374.79" r="4.9"/>
<circle cx="606.33" cy="375.36" r="4.9"/>
<circle cx="611" cy="355.13" r="4.9"/>
<circle cx="615.67" cy="355.32" r="4.9"/>
<circle cx="620.34" cy="356.05" r="4.9"/>
<circle cx="625.01" cy="356.37" r="4.9"/>
<circle cx="629.68" cy="356.34" r="4.9"/>
<circle cx="634.36" cy="342.4" r="4.9"/>
<circle cx="639.03" cy="342.73" r="4.9"/>
<circle cx="643.7" cy="342.87" r="4.9"/>
<circle cx="648.37" cy="343.62" r="4.9"/>
<circle cx="653.04" cy="343.75" r="4.9"/>
<circle cx="657.71" cy="317.65" r="4.9"/>
<circle cx="662.38" cy="318.31" r="4.9"/>
<circle cx="667.06" cy="318.57" r="4.9"/>
<circle cx="671.73" cy="318.8" r="4.9"/>
<circle cx="676.4" cy="319.18" r="4.9"/>
</g>
</g>
<text x="411.7" y="305.8" font-size="14.4" text-anchor="middle" fill="#000" font-weight="bold" stroke="#000" stroke-width="0.3">0.2</text>
<text x="435.5" y="331.6" font-size="14.4" text-anchor="middle" fill="#000" font-weight="bold" stroke="#000" stroke-width="0.3">0.5</text>
<text x="457.6" y="346.5" font-size="14.4" text-anchor="middle" fill="#000" font-weight="bold" stroke="#000" stroke-width="0.3">1.0</text>
<text x="481.3" y="365.5" font-size="14.4" text-anchor="middle" fill="#000" font-weight="bold" stroke="#000" stroke-width="0.3">2.0</text>
<text x="506.9" y="383.3" font-size="14.4" text-anchor="middle" fill="#000" font-weight="bold" stroke="#000" stroke-width="0.3">5.0</text>
<text x="539.2" y="399.2" font-size="14.4" text-anchor="middle" fill="#000" font-weight="bold" stroke="#000" stroke-width="0.3">10</text>
<text x="573.7" y="383.3" font-size="14.4" text-anchor="middle" fill="#000" font-weight="bold" stroke="#000" stroke-width="0.3">5.0</text>
<text x="596.3" y="365.6" font-size="14.4" text-anchor="middle" fill="#000" font-weight="bold" stroke="#000" stroke-width="0.3">2.0</text>
<text x="620" y="346.6" font-size="14.4" text-anchor="middle" fill="#000" font-weight="bold" stroke="#000" stroke-width="0.3">1.0</text>
<text x="642.5" y="331.8" font-size="14.4" text-anchor="middle" fill="#000" font-weight="bold" stroke="#000" stroke-width="0.3">0.5</text>
<text x="664.4" y="305.7" font-size="14.4" text-anchor="middle" fill="#000" font-weight="bold" stroke="#000" stroke-width="0.3">0.2</text>
<circle cx="417.7" cy="463.9" r="4.9" fill="url(#mB)"/>
<circle cx="417.7" cy="483.3" r="4.9" fill="url(#mR)"/>
<text x="436.7" y="468.4" font-size="13.2" text-anchor="start" fill="#000" font-weight="bold" stroke="#000" stroke-width="0.3">V<tspan dy="2.9" font-size="8.98">2</tspan><tspan dy="-2.9">CT</tspan><tspan dy="2.9" font-size="8.98">x</tspan><tspan dy="-2.9">-Mxene@Zn//NHG</tspan></text>
<text x="436.7" y="487.8" font-size="13.2" text-anchor="start" fill="#000" font-weight="bold" stroke="#000" stroke-width="0.3">Bare Zn//NHG</text>
<text x="598.8" y="485.4" font-size="14.8" text-anchor="start" fill="#000" font-weight="bold" stroke="#000" stroke-width="0.3">Unit: A g<tspan dy="-5.62" font-size="10.06">-1</tspan><tspan dy="5.62"></tspan></text>
<rect x="396.1" y="273.1" width="280.3" height="225.9" fill="none" stroke="#000" stroke-width="1.7"/>
<line x1="396.1" y1="499" x2="392.5" y2="499" stroke="#000" stroke-width="1.5"/>
<line x1="396.1" y1="457.93" x2="392.5" y2="457.93" stroke="#000" stroke-width="1.5"/>
<line x1="396.1" y1="416.85" x2="392.5" y2="416.85" stroke="#000" stroke-width="1.5"/>
<line x1="396.1" y1="375.78" x2="392.5" y2="375.78" stroke="#000" stroke-width="1.5"/>
<line x1="396.1" y1="334.71" x2="392.5" y2="334.71" stroke="#000" stroke-width="1.5"/>
<line x1="396.1" y1="293.64" x2="392.5" y2="293.64" stroke="#000" stroke-width="1.5"/>
<line x1="396.1" y1="478.46" x2="393.9" y2="478.46" stroke="#000" stroke-width="1.5"/>
<line x1="396.1" y1="437.39" x2="393.9" y2="437.39" stroke="#000" stroke-width="1.5"/>
<line x1="396.1" y1="396.32" x2="393.9" y2="396.32" stroke="#000" stroke-width="1.5"/>
<line x1="396.1" y1="355.25" x2="393.9" y2="355.25" stroke="#000" stroke-width="1.5"/>
<line x1="396.1" y1="314.17" x2="393.9" y2="314.17" stroke="#000" stroke-width="1.5"/>
<line x1="396.1" y1="499" x2="396.1" y2="502.6" stroke="#000" stroke-width="1.5"/>
<line x1="442.82" y1="499" x2="442.82" y2="502.6" stroke="#000" stroke-width="1.5"/>
<line x1="489.53" y1="499" x2="489.53" y2="502.6" stroke="#000" stroke-width="1.5"/>
<line x1="536.25" y1="499" x2="536.25" y2="502.6" stroke="#000" stroke-width="1.5"/>
<line x1="582.97" y1="499" x2="582.97" y2="502.6" stroke="#000" stroke-width="1.5"/>
<line x1="629.68" y1="499" x2="629.68" y2="502.6" stroke="#000" stroke-width="1.5"/>
<line x1="676.4" y1="499" x2="676.4" y2="502.6" stroke="#000" stroke-width="1.5"/>
<line x1="419.46" y1="499" x2="419.46" y2="501.2" stroke="#000" stroke-width="1.5"/>
<line x1="466.18" y1="499" x2="466.18" y2="501.2" stroke="#000" stroke-width="1.5"/>
<line x1="512.89" y1="499" x2="512.89" y2="501.2" stroke="#000" stroke-width="1.5"/>
<line x1="559.61" y1="499" x2="559.61" y2="501.2" stroke="#000" stroke-width="1.5"/>
<line x1="606.33" y1="499" x2="606.33" y2="501.2" stroke="#000" stroke-width="1.5"/>
<line x1="653.04" y1="499" x2="653.04" y2="501.2" stroke="#000" stroke-width="1.5"/>
<text x="387.1" y="503.7" font-size="14" text-anchor="end" fill="#000" font-weight="bold" stroke="#000" stroke-width="0.3">0</text>
<text x="387.1" y="462.63" font-size="14" text-anchor="end" fill="#000" font-weight="bold" stroke="#000" stroke-width="0.3">100</text>
<text x="387.1" y="421.55" font-size="14" text-anchor="end" fill="#000" font-weight="bold" stroke="#000" stroke-width="0.3">200</text>
<text x="387.1" y="380.48" font-size="14" text-anchor="end" fill="#000" font-weight="bold" stroke="#000" stroke-width="0.3">300</text>
<text x="387.1" y="339.41" font-size="14" text-anchor="end" fill="#000" font-weight="bold" stroke="#000" stroke-width="0.3">400</text>
<text x="387.1" y="298.34" font-size="14" text-anchor="end" fill="#000" font-weight="bold" stroke="#000" stroke-width="0.3">500</text>
<text x="396.1" y="517" font-size="14" text-anchor="middle" fill="#000" font-weight="bold" stroke="#000" stroke-width="0.3">0</text>
<text x="442.82" y="517" font-size="14" text-anchor="middle" fill="#000" font-weight="bold" stroke="#000" stroke-width="0.3">10</text>
<text x="489.53" y="517" font-size="14" text-anchor="middle" fill="#000" font-weight="bold" stroke="#000" stroke-width="0.3">20</text>
<text x="536.25" y="517" font-size="14" text-anchor="middle" fill="#000" font-weight="bold" stroke="#000" stroke-width="0.3">30</text>
<text x="582.97" y="517" font-size="14" text-anchor="middle" fill="#000" font-weight="bold" stroke="#000" stroke-width="0.3">40</text>
<text x="629.68" y="517" font-size="14" text-anchor="middle" fill="#000" font-weight="bold" stroke="#000" stroke-width="0.3">50</text>
<text x="676.4" y="517" font-size="14" text-anchor="middle" fill="#000" font-weight="bold" stroke="#000" stroke-width="0.3">60</text>
<text x="360" y="386" font-size="14.9" text-anchor="middle" fill="#000" font-weight="bold" stroke="#000" stroke-width="0.3" transform="rotate(-90 360 386)">Specific capacity (mAh g<tspan dy="-6.26" font-size="11.92">-1</tspan><tspan dy="6.26">)</tspan></text>
<text x="536.2" y="533.8" font-size="15.2" text-anchor="middle" fill="#000" font-weight="bold" stroke="#000" stroke-width="0.3">Cycle number</text>
<text x="332.5" y="268" font-size="20" text-anchor="start" fill="#000" font-weight="bold" stroke="#000" stroke-width="0.3">(d)</text>
<rect x="77.8" y="547.8" width="555.5" height="220.2" fill="url(#gA)"/>
<clipPath id="cpE"><rect x="77.8" y="547.8" width="555.5" height="220.2"/></clipPath>
<g clip-path="url(#cpE)">
<g fill="#2A84E0">
<circle cx="78.26" cy="568.42" r="5.5"/>
<circle cx="81.97" cy="567.76" r="5.5"/>
<circle cx="85.67" cy="567.62" r="5.5"/>
<circle cx="89.37" cy="567.49" r="5.5"/>
<circle cx="93.08" cy="568.75" r="5.5"/>
<circle cx="96.78" cy="568.48" r="5.5"/>
<circle cx="100.48" cy="568.81" r="5.5"/>
<circle cx="104.19" cy="567.4" r="5.5"/>
<circle cx="107.89" cy="568.21" r="5.5"/>
<circle cx="111.59" cy="567.86" r="5.5"/>
<circle cx="115.3" cy="568.37" r="5.5"/>
<circle cx="119" cy="567.84" r="5.5"/>
<circle cx="122.7" cy="568.64" r="5.5"/>
<circle cx="126.41" cy="567.4" r="5.5"/>
<circle cx="130.11" cy="568.28" r="5.5"/>
<circle cx="133.81" cy="568.64" r="5.5"/>
<circle cx="137.52" cy="569" r="5.5"/>
<circle cx="141.22" cy="568.61" r="5.5"/>
<circle cx="144.92" cy="568.39" r="5.5"/>
<circle cx="148.63" cy="568.64" r="5.5"/>
<circle cx="152.33" cy="568.57" r="5.5"/>
<circle cx="156.03" cy="567.58" r="5.5"/>
<circle cx="159.74" cy="567.94" r="5.5"/>
<circle cx="163.44" cy="568.09" r="5.5"/>
<circle cx="167.14" cy="568.13" r="5.5"/>
<circle cx="170.85" cy="567.61" r="5.5"/>
<circle cx="174.55" cy="568.21" r="5.5"/>
<circle cx="178.25" cy="568.43" r="5.5"/>
<circle cx="181.96" cy="568.14" r="5.5"/>
<circle cx="185.66" cy="568.28" r="5.5"/>
<circle cx="189.36" cy="568.1" r="5.5"/>
<circle cx="193.07" cy="568.38" r="5.5"/>
<circle cx="196.77" cy="568.37" r="5.5"/>
<circle cx="200.47" cy="567.67" r="5.5"/>
<circle cx="204.18" cy="568.58" r="5.5"/>
<circle cx="207.88" cy="569.13" r="5.5"/>
<circle cx="211.58" cy="569.02" r="5.5"/>
<circle cx="215.29" cy="568.72" r="5.5"/>
<circle cx="218.99" cy="568.18" r="5.5"/>
<circle cx="222.69" cy="568.67" r="5.5"/>
<circle cx="226.4" cy="568.22" r="5.5"/>
<circle cx="230.1" cy="567.96" r="5.5"/>
<circle cx="233.8" cy="568.41" r="5.5"/>
<circle cx="237.51" cy="567.39" r="5.5"/>
<circle cx="241.21" cy="568.34" r="5.5"/>
<circle cx="244.91" cy="567.52" r="5.5"/>
<circle cx="248.62" cy="568.46" r="5.5"/>
<circle cx="252.32" cy="568.27" r="5.5"/>
<circle cx="256.02" cy="567.78" r="5.5"/>
<circle cx="259.73" cy="568.57" r="5.5"/>
<circle cx="263.43" cy="568.19" r="5.5"/>
<circle cx="267.13" cy="568.5" r="5.5"/>
<circle cx="270.84" cy="568.79" r="5.5"/>
<circle cx="274.54" cy="567.66" r="5.5"/>
<circle cx="278.24" cy="567.48" r="5.5"/>
<circle cx="281.95" cy="568.03" r="5.5"/>
<circle cx="285.65" cy="568.39" r="5.5"/>
<circle cx="289.35" cy="567.63" r="5.5"/>
<circle cx="293.06" cy="567.42" r="5.5"/>
<circle cx="296.76" cy="568.59" r="5.5"/>
<circle cx="300.46" cy="568.42" r="5.5"/>
<circle cx="304.17" cy="567.99" r="5.5"/>
<circle cx="307.87" cy="568.48" r="5.5"/>
<circle cx="311.57" cy="567.65" r="5.5"/>
<circle cx="315.28" cy="568.11" r="5.5"/>
<circle cx="318.98" cy="567.58" r="5.5"/>
<circle cx="322.68" cy="567.7" r="5.5"/>
<circle cx="326.39" cy="568.18" r="5.5"/>
<circle cx="330.09" cy="568.41" r="5.5"/>
<circle cx="333.79" cy="568.35" r="5.5"/>
<circle cx="337.5" cy="567.82" r="5.5"/>
<circle cx="341.2" cy="568.12" r="5.5"/>
<circle cx="344.9" cy="567.7" r="5.5"/>
<circle cx="348.61" cy="567.43" r="5.5"/>
<circle cx="352.31" cy="567.9" r="5.5"/>
<circle cx="356.01" cy="568.32" r="5.5"/>
<circle cx="359.72" cy="568.36" r="5.5"/>
<circle cx="363.42" cy="568.23" r="5.5"/>
<circle cx="367.12" cy="568.73" r="5.5"/>
<circle cx="370.83" cy="567.7" r="5.5"/>
<circle cx="374.53" cy="567.75" r="5.5"/>
<circle cx="378.23" cy="568.09" r="5.5"/>
<circle cx="381.94" cy="567.89" r="5.5"/>
<circle cx="385.64" cy="567.96" r="5.5"/>
<circle cx="389.34" cy="568.15" r="5.5"/>
<circle cx="393.05" cy="568.27" r="5.5"/>
<circle cx="396.75" cy="568.26" r="5.5"/>
<circle cx="400.45" cy="567.84" r="5.5"/>
<circle cx="404.16" cy="568.58" r="5.5"/>
<circle cx="407.86" cy="568.88" r="5.5"/>
<circle cx="411.56" cy="568" r="5.5"/>
<circle cx="415.27" cy="567.38" r="5.5"/>
<circle cx="418.97" cy="567.32" r="5.5"/>
<circle cx="422.67" cy="568.26" r="5.5"/>
<circle cx="426.38" cy="567.19" r="5.5"/>
<circle cx="430.08" cy="568.12" r="5.5"/>
<circle cx="433.78" cy="567.89" r="5.5"/>
<circle cx="437.49" cy="567.53" r="5.5"/>
<circle cx="441.19" cy="568.25" r="5.5"/>
<circle cx="444.89" cy="567.39" r="5.5"/>
<circle cx="448.6" cy="567.66" r="5.5"/>
<circle cx="452.3" cy="568.1" r="5.5"/>
<circle cx="456" cy="567.66" r="5.5"/>
<circle cx="459.71" cy="568.68" r="5.5"/>
<circle cx="463.41" cy="567.8" r="5.5"/>
<circle cx="467.11" cy="567.78" r="5.5"/>
<circle cx="470.82" cy="567.61" r="5.5"/>
<circle cx="474.52" cy="568.36" r="5.5"/>
<circle cx="478.22" cy="568.01" r="5.5"/>
<circle cx="481.93" cy="568.23" r="5.5"/>
<circle cx="485.63" cy="568.46" r="5.5"/>
<circle cx="489.33" cy="568.69" r="5.5"/>
<circle cx="493.04" cy="568.91" r="5.5"/>
<circle cx="496.74" cy="568.54" r="5.5"/>
<circle cx="500.44" cy="567.96" r="5.5"/>
<circle cx="504.15" cy="568.4" r="5.5"/>
<circle cx="507.85" cy="567.82" r="5.5"/>
<circle cx="511.55" cy="567.36" r="5.5"/>
<circle cx="515.26" cy="568.2" r="5.5"/>
<circle cx="518.96" cy="568.35" r="5.5"/>
<circle cx="522.66" cy="567.56" r="5.5"/>
<circle cx="526.37" cy="567.6" r="5.5"/>
<circle cx="530.07" cy="567.81" r="5.5"/>
<circle cx="533.77" cy="568.43" r="5.5"/>
<circle cx="537.48" cy="568.24" r="5.5"/>
<circle cx="541.18" cy="568.17" r="5.5"/>
<circle cx="544.88" cy="568.5" r="5.5"/>
<circle cx="548.59" cy="567.82" r="5.5"/>
<circle cx="552.29" cy="568.37" r="5.5"/>
<circle cx="555.99" cy="568.47" r="5.5"/>
<circle cx="559.7" cy="567.39" r="5.5"/>
<circle cx="563.4" cy="568.65" r="5.5"/>
<circle cx="567.1" cy="568.38" r="5.5"/>
<circle cx="570.81" cy="567.61" r="5.5"/>
<circle cx="574.51" cy="568.09" r="5.5"/>
<circle cx="578.21" cy="568.28" r="5.5"/>
<circle cx="581.92" cy="568.6" r="5.5"/>
<circle cx="585.62" cy="567.75" r="5.5"/>
<circle cx="589.32" cy="567.88" r="5.5"/>
<circle cx="593.03" cy="568.29" r="5.5"/>
<circle cx="596.73" cy="568.03" r="5.5"/>
<circle cx="600.43" cy="568.33" r="5.5"/>
<circle cx="604.14" cy="567.69" r="5.5"/>
<circle cx="607.84" cy="567.97" r="5.5"/>
<circle cx="611.54" cy="567.46" r="5.5"/>
<circle cx="615.25" cy="568.42" r="5.5"/>
<circle cx="618.95" cy="568.68" r="5.5"/>
<circle cx="622.65" cy="568.52" r="5.5"/>
<circle cx="626.36" cy="568.64" r="5.5"/>
<circle cx="630.06" cy="568.11" r="5.5"/>
<circle cx="633.3" cy="569.23" r="5.5"/>
</g>
<g fill="#FF6A5C">
<circle cx="78.26" cy="567.63" r="5.7"/>
<circle cx="81.97" cy="568.49" r="5.7"/>
<circle cx="85.67" cy="567.8" r="5.7"/>
<circle cx="89.37" cy="568.05" r="5.7"/>
<circle cx="93.08" cy="568.17" r="5.7"/>
<circle cx="96.78" cy="567.4" r="5.7"/>
<circle cx="100.48" cy="567.49" r="5.7"/>
<circle cx="104.19" cy="567.57" r="5.7"/>
<circle cx="107.89" cy="568.46" r="5.7"/>
<circle cx="111.59" cy="568.4" r="5.7"/>
<circle cx="115.3" cy="567.55" r="5.7"/>
<circle cx="119" cy="568.56" r="5.7"/>
<circle cx="122.7" cy="567.88" r="5.7"/>
<circle cx="126.41" cy="567.43" r="5.7"/>
<circle cx="130.11" cy="567.82" r="5.7"/>
<circle cx="133.81" cy="568.51" r="5.7"/>
<circle cx="137.52" cy="568.01" r="5.7"/>
<circle cx="141.22" cy="568.08" r="5.7"/>
<circle cx="144.92" cy="568.62" r="5.7"/>
<circle cx="148.63" cy="568.67" r="5.7"/>
<circle cx="152.33" cy="568.34" r="5.7"/>
<circle cx="156.03" cy="567.55" r="5.7"/>
<circle cx="159.74" cy="568.09" r="5.7"/>
<circle cx="163.44" cy="568.53" r="5.7"/>
<circle cx="167.14" cy="568.28" r="5.7"/>
<circle cx="170.85" cy="568.12" r="5.7"/>
<circle cx="174.55" cy="567.78" r="5.7"/>
<circle cx="178.25" cy="567.85" r="5.7"/>
<circle cx="181.96" cy="568.55" r="5.7"/>
<circle cx="185.66" cy="568.03" r="5.7"/>
<circle cx="189.36" cy="567.09" r="5.7"/>
<circle cx="193.07" cy="568.37" r="5.7"/>
<circle cx="196.77" cy="568.42" r="5.7"/>
<circle cx="200.47" cy="568.18" r="5.7"/>
<circle cx="204.18" cy="568.32" r="5.7"/>
<circle cx="207.88" cy="568.26" r="5.7"/>
<circle cx="211.58" cy="567.87" r="5.7"/>
<circle cx="215.29" cy="568.3" r="5.7"/>
<circle cx="218.99" cy="567.58" r="5.7"/>
<circle cx="222.69" cy="567.27" r="5.7"/>
<circle cx="226.4" cy="567.61" r="5.7"/>
<circle cx="230.1" cy="567.64" r="5.7"/>
<circle cx="233.8" cy="568.6" r="5.7"/>
<circle cx="237.51" cy="568.18" r="5.7"/>
<circle cx="241.21" cy="568.12" r="5.7"/>
<circle cx="244.91" cy="568.42" r="5.7"/>
<circle cx="248.62" cy="567.64" r="5.7"/>
<circle cx="252.32" cy="568.26" r="5.7"/>
<circle cx="256.02" cy="568.52" r="5.7"/>
<circle cx="259.73" cy="568.23" r="5.7"/>
<circle cx="263.43" cy="567.98" r="5.7"/>
<circle cx="267.13" cy="567.97" r="5.7"/>
<circle cx="270.84" cy="567.61" r="5.7"/>
<circle cx="274.54" cy="568.1" r="5.7"/>
<circle cx="278.24" cy="567.28" r="5.7"/>
<circle cx="281.95" cy="567.33" r="5.7"/>
<circle cx="285.65" cy="567.63" r="5.7"/>
<circle cx="289.35" cy="568.04" r="5.7"/>
<circle cx="293.06" cy="568.36" r="5.7"/>
<circle cx="296.76" cy="568.26" r="5.7"/>
<circle cx="300.46" cy="568.75" r="5.7"/>
<circle cx="304.17" cy="567.75" r="5.7"/>
<circle cx="307.87" cy="567.1" r="5.7"/>
<circle cx="311.57" cy="567.79" r="5.7"/>
<circle cx="315.28" cy="567.95" r="5.7"/>
<circle cx="318.98" cy="567.31" r="5.7"/>
<circle cx="322.68" cy="568.13" r="5.7"/>
<circle cx="326.39" cy="567.5" r="5.7"/>
<circle cx="330.09" cy="567.48" r="5.7"/>
<circle cx="333.79" cy="567.5" r="5.7"/>
<circle cx="337.5" cy="568.45" r="5.7"/>
<circle cx="341.2" cy="566.82" r="5.7"/>
<circle cx="344.9" cy="567.55" r="5.7"/>
<circle cx="348.61" cy="567.27" r="5.7"/>
<circle cx="352.31" cy="567.23" r="5.7"/>
<circle cx="356.01" cy="567.45" r="5.7"/>
<circle cx="359.72" cy="567.19" r="5.7"/>
<circle cx="363.42" cy="568.37" r="5.7"/>
<circle cx="367.12" cy="567.89" r="5.7"/>
<circle cx="370.83" cy="568.16" r="5.7"/>
<circle cx="374.53" cy="567.58" r="5.7"/>
<circle cx="378.23" cy="567.97" r="5.7"/>
<circle cx="381.94" cy="568.42" r="5.7"/>
<circle cx="385.64" cy="568.82" r="5.7"/>
<circle cx="389.34" cy="567.79" r="5.7"/>
<circle cx="393.05" cy="568.06" r="5.7"/>
<circle cx="396.75" cy="568.82" r="5.7"/>
<circle cx="400.45" cy="568.49" r="5.7"/>
<circle cx="404.16" cy="567.56" r="5.7"/>
<circle cx="407.86" cy="568" r="5.7"/>
<circle cx="411.56" cy="568.36" r="5.7"/>
<circle cx="415.27" cy="567.79" r="5.7"/>
<circle cx="418.97" cy="568" r="5.7"/>
<circle cx="422.67" cy="567.72" r="5.7"/>
<circle cx="426.38" cy="568.4" r="5.7"/>
<circle cx="430.08" cy="567.95" r="5.7"/>
<circle cx="433.78" cy="568.23" r="5.7"/>
<circle cx="437.49" cy="567.75" r="5.7"/>
<circle cx="441.19" cy="568.29" r="5.7"/>
<circle cx="444.89" cy="567.73" r="5.7"/>
<circle cx="448.6" cy="568.25" r="5.7"/>
<circle cx="452.3" cy="568.09" r="5.7"/>
<circle cx="456" cy="567.9" r="5.7"/>
<circle cx="459.71" cy="567.39" r="5.7"/>
<circle cx="463.41" cy="567.54" r="5.7"/>
<circle cx="467.11" cy="568.19" r="5.7"/>
<circle cx="470.82" cy="567.81" r="5.7"/>
<circle cx="474.52" cy="567.32" r="5.7"/>
<circle cx="478.22" cy="568.57" r="5.7"/>
<circle cx="481.93" cy="567.82" r="5.7"/>
<circle cx="485.63" cy="568.84" r="5.7"/>
<circle cx="489.33" cy="568.23" r="5.7"/>
<circle cx="493.04" cy="568.01" r="5.7"/>
<circle cx="496.74" cy="568.77" r="5.7"/>
<circle cx="500.44" cy="568.94" r="5.7"/>
<circle cx="502.76" cy="567.85" r="5.7"/>
</g>
<g fill="url(#mR)">
<circle cx="78.26" cy="678.47" r="5.1"/>
<circle cx="81.97" cy="683.61" r="5.1"/>
<circle cx="85.67" cy="685.91" r="5.1"/>
<circle cx="89.37" cy="687.44" r="5.1"/>
<circle cx="93.08" cy="688.65" r="5.1"/>
<circle cx="96.78" cy="690.88" r="5.1"/>
<circle cx="100.48" cy="692.74" r="5.1"/>
<circle cx="104.19" cy="692.7" r="5.1"/>
<circle cx="107.89" cy="692.9" r="5.1"/>
<circle cx="111.59" cy="693.13" r="5.1"/>
<circle cx="115.3" cy="693.25" r="5.1"/>
<circle cx="119" cy="693.33" r="5.1"/>
<circle cx="122.7" cy="693.69" r="5.1"/>
<circle cx="126.41" cy="693.97" r="5.1"/>
<circle cx="130.11" cy="694.58" r="5.1"/>
<circle cx="133.81" cy="694.84" r="5.1"/>
<circle cx="137.52" cy="695.56" r="5.1"/>
<circle cx="141.22" cy="696.6" r="5.1"/>
<circle cx="144.92" cy="696.88" r="5.1"/>
<circle cx="148.63" cy="697.79" r="5.1"/>
<circle cx="152.33" cy="698.56" r="5.1"/>
<circle cx="156.03" cy="699.51" r="5.1"/>
<circle cx="159.74" cy="699.85" r="5.1"/>
<circle cx="163.44" cy="700.51" r="5.1"/>
<circle cx="167.14" cy="700.96" r="5.1"/>
<circle cx="170.85" cy="701.42" r="5.1"/>
<circle cx="174.55" cy="702.01" r="5.1"/>
<circle cx="178.25" cy="702" r="5.1"/>
<circle cx="181.96" cy="702.49" r="5.1"/>
<circle cx="185.66" cy="702.96" r="5.1"/>
<circle cx="189.36" cy="703.18" r="5.1"/>
<circle cx="193.07" cy="703.72" r="5.1"/>
<circle cx="196.77" cy="704.11" r="5.1"/>
<circle cx="200.47" cy="704.64" r="5.1"/>
<circle cx="204.18" cy="704.94" r="5.1"/>
<circle cx="207.88" cy="705.12" r="5.1"/>
<circle cx="211.58" cy="705.64" r="5.1"/>
<circle cx="215.29" cy="706.04" r="5.1"/>
<circle cx="218.99" cy="706.49" r="5.1"/>
<circle cx="222.69" cy="707.19" r="5.1"/>
<circle cx="226.4" cy="708.44" r="5.1"/>
<circle cx="230.1" cy="709.73" r="5.1"/>
<circle cx="233.8" cy="710.34" r="5.1"/>
<circle cx="237.51" cy="711.14" r="5.1"/>
<circle cx="241.21" cy="711.61" r="5.1"/>
<circle cx="244.91" cy="711.93" r="5.1"/>
<circle cx="248.62" cy="712.61" r="5.1"/>
<circle cx="252.32" cy="713.22" r="5.1"/>
<circle cx="256.02" cy="713.56" r="5.1"/>
<circle cx="259.73" cy="714.17" r="5.1"/>
<circle cx="263.43" cy="714.49" r="5.1"/>
<circle cx="267.13" cy="715.14" r="5.1"/>
<circle cx="270.84" cy="715.58" r="5.1"/>
<circle cx="274.54" cy="716.33" r="5.1"/>
<circle cx="278.24" cy="716.41" r="5.1"/>
<circle cx="281.95" cy="717.34" r="5.1"/>
<circle cx="285.65" cy="717.45" r="5.1"/>
<circle cx="289.35" cy="717.83" r="5.1"/>
<circle cx="293.06" cy="718.04" r="5.1"/>
<circle cx="296.76" cy="718.49" r="5.1"/>
<circle cx="300.46" cy="719.27" r="5.1"/>
<circle cx="304.17" cy="719.73" r="5.1"/>
<circle cx="307.87" cy="720.29" r="5.1"/>
<circle cx="311.57" cy="720.52" r="5.1"/>
<circle cx="315.28" cy="721.24" r="5.1"/>
<circle cx="318.98" cy="721.7" r="5.1"/>
<circle cx="322.68" cy="722.24" r="5.1"/>
<circle cx="326.39" cy="722.15" r="5.1"/>
<circle cx="330.09" cy="722.81" r="5.1"/>
<circle cx="333.79" cy="723.08" r="5.1"/>
<circle cx="337.5" cy="723.46" r="5.1"/>
<circle cx="341.2" cy="723.84" r="5.1"/>
<circle cx="344.9" cy="724.16" r="5.1"/>
<circle cx="348.61" cy="724.62" r="5.1"/>
<circle cx="352.31" cy="724.93" r="5.1"/>
<circle cx="356.01" cy="725.21" r="5.1"/>
<circle cx="359.72" cy="725.35" r="5.1"/>
<circle cx="363.42" cy="726" r="5.1"/>
<circle cx="367.12" cy="726.58" r="5.1"/>
<circle cx="370.83" cy="726.65" r="5.1"/>
<circle cx="374.53" cy="727.01" r="5.1"/>
<circle cx="378.23" cy="727.69" r="5.1"/>
<circle cx="381.94" cy="727.73" r="5.1"/>
<circle cx="385.64" cy="728.21" r="5.1"/>
<circle cx="389.34" cy="728.74" r="5.1"/>
<circle cx="393.05" cy="729.18" r="5.1"/>
<circle cx="396.75" cy="729.48" r="5.1"/>
<circle cx="400.45" cy="729.79" r="5.1"/>
<circle cx="404.16" cy="730.09" r="5.1"/>
<circle cx="407.86" cy="730.15" r="5.1"/>
<circle cx="411.56" cy="730.54" r="5.1"/>
<circle cx="415.27" cy="730.53" r="5.1"/>
<circle cx="418.97" cy="730.81" r="5.1"/>
<circle cx="422.67" cy="731.02" r="5.1"/>
<circle cx="426.38" cy="731.08" r="5.1"/>
<circle cx="430.08" cy="731.15" r="5.1"/>
<circle cx="433.78" cy="731.36" r="5.1"/>
<circle cx="437.49" cy="731.91" r="5.1"/>
<circle cx="441.19" cy="732.17" r="5.1"/>
<circle cx="444.89" cy="732.84" r="5.1"/>
<circle cx="448.6" cy="732.94" r="5.1"/>
<circle cx="452.3" cy="733.23" r="5.1"/>
<circle cx="456" cy="733.37" r="5.1"/>
<circle cx="459.71" cy="733.34" r="5.1"/>
<circle cx="463.41" cy="733.39" r="5.1"/>
<circle cx="467.11" cy="733.48" r="5.1"/>
<circle cx="470.82" cy="733.57" r="5.1"/>
<circle cx="474.52" cy="734.15" r="5.1"/>
<circle cx="478.22" cy="734.18" r="5.1"/>
<circle cx="481.93" cy="734.67" r="5.1"/>
<circle cx="485.63" cy="734.87" r="5.1"/>
<circle cx="489.33" cy="735.2" r="5.1"/>
<circle cx="493.04" cy="735.96" r="5.1"/>
<circle cx="496.74" cy="736.45" r="5.1"/>
<circle cx="500.44" cy="736.73" r="5.1"/>
<circle cx="502.76" cy="736.89" r="5.1"/>
</g>
<g fill="url(#mB)">
<circle cx="78.26" cy="660.67" r="5.3"/>
<circle cx="81.97" cy="660.34" r="5.3"/>
<circle cx="85.67" cy="659.85" r="5.3"/>
<circle cx="89.37" cy="659.93" r="5.3"/>
<circle cx="93.08" cy="659.46" r="5.3"/>
<circle cx="96.78" cy="660.76" r="5.3"/>
<circle cx="100.48" cy="662.18" r="5.3"/>
<circle cx="104.19" cy="662.94" r="5.3"/>
<circle cx="107.89" cy="663.08" r="5.3"/>
<circle cx="111.59" cy="663.83" r="5.3"/>
<circle cx="115.3" cy="664.46" r="5.3"/>
<circle cx="119" cy="664.81" r="5.3"/>
<circle cx="122.7" cy="665.53" r="5.3"/>
<circle cx="126.41" cy="666.16" r="5.3"/>
<circle cx="130.11" cy="666.02" r="5.3"/>
<circle cx="133.81" cy="666.15" r="5.3"/>
<circle cx="137.52" cy="666.38" r="5.3"/>
<circle cx="141.22" cy="666.08" r="5.3"/>
<circle cx="144.92" cy="665.83" r="5.3"/>
<circle cx="148.63" cy="665.88" r="5.3"/>
<circle cx="152.33" cy="665.82" r="5.3"/>
<circle cx="156.03" cy="666.41" r="5.3"/>
<circle cx="159.74" cy="666.28" r="5.3"/>
<circle cx="163.44" cy="666.5" r="5.3"/>
<circle cx="167.14" cy="666.76" r="5.3"/>
<circle cx="170.85" cy="667.12" r="5.3"/>
<circle cx="174.55" cy="666.85" r="5.3"/>
<circle cx="178.25" cy="666.97" r="5.3"/>
<circle cx="181.96" cy="667.31" r="5.3"/>
<circle cx="185.66" cy="667.25" r="5.3"/>
<circle cx="189.36" cy="667.17" r="5.3"/>
<circle cx="193.07" cy="667.54" r="5.3"/>
<circle cx="196.77" cy="667.46" r="5.3"/>
<circle cx="200.47" cy="667.43" r="5.3"/>
<circle cx="204.18" cy="667.69" r="5.3"/>
<circle cx="207.88" cy="667.88" r="5.3"/>
<circle cx="211.58" cy="667.91" r="5.3"/>
<circle cx="215.29" cy="667.93" r="5.3"/>
<circle cx="218.99" cy="668.12" r="5.3"/>
<circle cx="222.69" cy="667.72" r="5.3"/>
<circle cx="226.4" cy="668.27" r="5.3"/>
<circle cx="230.1" cy="668.43" r="5.3"/>
<circle cx="233.8" cy="668.4" r="5.3"/>
<circle cx="237.51" cy="668.58" r="5.3"/>
<circle cx="241.21" cy="669" r="5.3"/>
<circle cx="244.91" cy="668.94" r="5.3"/>
<circle cx="248.62" cy="669.54" r="5.3"/>
<circle cx="252.32" cy="669.42" r="5.3"/>
<circle cx="256.02" cy="669.71" r="5.3"/>
<circle cx="259.73" cy="669.87" r="5.3"/>
<circle cx="263.43" cy="669.84" r="5.3"/>
<circle cx="267.13" cy="670.01" r="5.3"/>
<circle cx="270.84" cy="670.11" r="5.3"/>
<circle cx="274.54" cy="670.48" r="5.3"/>
<circle cx="278.24" cy="670.83" r="5.3"/>
<circle cx="281.95" cy="670.78" r="5.3"/>
<circle cx="285.65" cy="670.91" r="5.3"/>
<circle cx="289.35" cy="671.04" r="5.3"/>
<circle cx="293.06" cy="671.18" r="5.3"/>
<circle cx="296.76" cy="671.11" r="5.3"/>
<circle cx="300.46" cy="671.58" r="5.3"/>
<circle cx="304.17" cy="671.82" r="5.3"/>
<circle cx="307.87" cy="671.98" r="5.3"/>
<circle cx="311.57" cy="671.99" r="5.3"/>
<circle cx="315.28" cy="671.98" r="5.3"/>
<circle cx="318.98" cy="672.18" r="5.3"/>
<circle cx="322.68" cy="672.09" r="5.3"/>
<circle cx="326.39" cy="672.08" r="5.3"/>
<circle cx="330.09" cy="671.99" r="5.3"/>
<circle cx="333.79" cy="671.98" r="5.3"/>
<circle cx="337.5" cy="672.45" r="5.3"/>
<circle cx="341.2" cy="672.34" r="5.3"/>
<circle cx="344.9" cy="672.06" r="5.3"/>
<circle cx="348.61" cy="672.39" r="5.3"/>
<circle cx="352.31" cy="672.48" r="5.3"/>
<circle cx="356.01" cy="672.81" r="5.3"/>
<circle cx="359.72" cy="672.82" r="5.3"/>
<circle cx="363.42" cy="672.95" r="5.3"/>
<circle cx="367.12" cy="673.13" r="5.3"/>
<circle cx="370.83" cy="673.32" r="5.3"/>
<circle cx="374.53" cy="673.48" r="5.3"/>
<circle cx="378.23" cy="673.8" r="5.3"/>
<circle cx="381.94" cy="673.63" r="5.3"/>
<circle cx="385.64" cy="674.02" r="5.3"/>
<circle cx="389.34" cy="674.2" r="5.3"/>
<circle cx="393.05" cy="674.47" r="5.3"/>
<circle cx="396.75" cy="674.38" r="5.3"/>
<circle cx="400.45" cy="674.38" r="5.3"/>
<circle cx="404.16" cy="674.81" r="5.3"/>
<circle cx="407.86" cy="674.72" r="5.3"/>
<circle cx="411.56" cy="674.66" r="5.3"/>
<circle cx="415.27" cy="674.76" r="5.3"/>
<circle cx="418.97" cy="674.85" r="5.3"/>
<circle cx="422.67" cy="675.05" r="5.3"/>
<circle cx="426.38" cy="675.02" r="5.3"/>
<circle cx="430.08" cy="675.04" r="5.3"/>
<circle cx="433.78" cy="675.69" r="5.3"/>
<circle cx="437.49" cy="675.5" r="5.3"/>
<circle cx="441.19" cy="675.26" r="5.3"/>
<circle cx="444.89" cy="675.6" r="5.3"/>
<circle cx="448.6" cy="675.7" r="5.3"/>
<circle cx="452.3" cy="675.47" r="5.3"/>
<circle cx="456" cy="675.42" r="5.3"/>
<circle cx="459.71" cy="675.47" r="5.3"/>
<circle cx="463.41" cy="675.67" r="5.3"/>
<circle cx="467.11" cy="675.85" r="5.3"/>
<circle cx="470.82" cy="675.92" r="5.3"/>
<circle cx="474.52" cy="675.97" r="5.3"/>
<circle cx="478.22" cy="676.13" r="5.3"/>
<circle cx="481.93" cy="675.84" r="5.3"/>
<circle cx="485.63" cy="676.15" r="5.3"/>
<circle cx="489.33" cy="676.49" r="5.3"/>
<circle cx="493.04" cy="676.57" r="5.3"/>
<circle cx="496.74" cy="676.33" r="5.3"/>
<circle cx="500.44" cy="676.32" r="5.3"/>
<circle cx="504.15" cy="676.42" r="5.3"/>
<circle cx="507.85" cy="676.55" r="5.3"/>
<circle cx="511.55" cy="676.7" r="5.3"/>
<circle cx="515.26" cy="676.89" r="5.3"/>
<circle cx="518.96" cy="677.36" r="5.3"/>
<circle cx="522.66" cy="677.4" r="5.3"/>
<circle cx="526.37" cy="677.6" r="5.3"/>
<circle cx="530.07" cy="677.75" r="5.3"/>
<circle cx="533.77" cy="678.05" r="5.3"/>
<circle cx="537.48" cy="677.8" r="5.3"/>
<circle cx="541.18" cy="678.13" r="5.3"/>
<circle cx="544.88" cy="677.96" r="5.3"/>
<circle cx="548.59" cy="677.81" r="5.3"/>
<circle cx="552.29" cy="678.11" r="5.3"/>
<circle cx="555.99" cy="678.51" r="5.3"/>
<circle cx="559.7" cy="678.6" r="5.3"/>
<circle cx="563.4" cy="678.53" r="5.3"/>
<circle cx="567.1" cy="678.67" r="5.3"/>
<circle cx="570.81" cy="678.78" r="5.3"/>
<circle cx="574.51" cy="678.62" r="5.3"/>
<circle cx="578.21" cy="678.8" r="5.3"/>
<circle cx="581.92" cy="678.95" r="5.3"/>
<circle cx="585.62" cy="679.04" r="5.3"/>
<circle cx="589.32" cy="679.38" r="5.3"/>
<circle cx="593.03" cy="679.2" r="5.3"/>
<circle cx="596.73" cy="679.64" r="5.3"/>
<circle cx="600.43" cy="679.87" r="5.3"/>
<circle cx="604.14" cy="679.55" r="5.3"/>
<circle cx="607.84" cy="679.89" r="5.3"/>
<circle cx="611.54" cy="679.8" r="5.3"/>
<circle cx="615.25" cy="679.9" r="5.3"/>
<circle cx="618.95" cy="680" r="5.3"/>
<circle cx="622.65" cy="680" r="5.3"/>
<circle cx="626.36" cy="680.15" r="5.3"/>
<circle cx="630.06" cy="680.3" r="5.3"/>
<circle cx="633.3" cy="680.52" r="5.3"/>
</g>
</g>
<circle cx="113.6" cy="602" r="5.5" fill="url(#mB)"/>
<circle cx="113.6" cy="625.5" r="5.5" fill="url(#mR)"/>
<text x="134.3" y="608.4" font-size="16.1" text-anchor="start" fill="#000" font-weight="bold" stroke="#000" stroke-width="0.3">V<tspan dy="3.54" font-size="10.95">2</tspan><tspan dy="-3.54">CT</tspan><tspan dy="3.54" font-size="10.95">x</tspan><tspan dy="-3.54">-MXene@Zn//NHG</tspan></text>
<text x="134.3" y="631.2" font-size="16.1" text-anchor="start" fill="#000" font-weight="bold" stroke="#000" stroke-width="0.3">Bare Zn//NHG</text>
<text x="92.7" y="756.6" font-size="16" text-anchor="start" fill="#000" font-weight="bold" stroke="#000" stroke-width="0.3">Current density: 1.0 A g<tspan dy="-6.08" font-size="10.88">-1</tspan><tspan dy="6.08"></tspan></text>
<text x="587.6" y="649.9" font-size="16" text-anchor="middle" fill="#2E8BE0" font-weight="bold" stroke="#2E8BE0" stroke-width="0.3">80.71 %</text>
<line x1="595" y1="655.6" x2="621.82" y2="669.47" stroke="#2E8BE0" stroke-width="1.3"/>
<path d="M626.7 672 L619.73 671.32 L622.12 666.7 Z" fill="#2E8BE0"/>
<text x="458.2" y="707.9" font-size="16" text-anchor="middle" fill="#F4675A" font-weight="bold" stroke="#F4675A" stroke-width="0.3">33.91 %</text>
<line x1="469.2" y1="712.3" x2="494.98" y2="725.15" stroke="#F4675A" stroke-width="1.3"/>
<path d="M499.9 727.6 L492.92 727.03 L495.24 722.37 Z" fill="#F4675A"/>
<rect x="77.8" y="547.8" width="555.5" height="220.2" fill="none" stroke="#000" stroke-width="1.7"/>
<line x1="77.8" y1="768" x2="74.2" y2="768" stroke="#000" stroke-width="1.5"/>
<line x1="77.8" y1="736.54" x2="74.2" y2="736.54" stroke="#000" stroke-width="1.5"/>
<line x1="77.8" y1="705.09" x2="74.2" y2="705.09" stroke="#000" stroke-width="1.5"/>
<line x1="77.8" y1="673.63" x2="74.2" y2="673.63" stroke="#000" stroke-width="1.5"/>
<line x1="77.8" y1="642.17" x2="74.2" y2="642.17" stroke="#000" stroke-width="1.5"/>
<line x1="77.8" y1="610.71" x2="74.2" y2="610.71" stroke="#000" stroke-width="1.5"/>
<line x1="77.8" y1="579.26" x2="74.2" y2="579.26" stroke="#000" stroke-width="1.5"/>
<line x1="77.8" y1="547.8" x2="74.2" y2="547.8" stroke="#000" stroke-width="1.5"/>
<line x1="77.8" y1="752.27" x2="75.6" y2="752.27" stroke="#000" stroke-width="1.5"/>
<line x1="77.8" y1="720.81" x2="75.6" y2="720.81" stroke="#000" stroke-width="1.5"/>
<line x1="77.8" y1="689.36" x2="75.6" y2="689.36" stroke="#000" stroke-width="1.5"/>
<line x1="77.8" y1="657.9" x2="75.6" y2="657.9" stroke="#000" stroke-width="1.5"/>
<line x1="77.8" y1="626.44" x2="75.6" y2="626.44" stroke="#000" stroke-width="1.5"/>
<line x1="77.8" y1="594.99" x2="75.6" y2="594.99" stroke="#000" stroke-width="1.5"/>
<line x1="77.8" y1="563.53" x2="75.6" y2="563.53" stroke="#000" stroke-width="1.5"/>
<line x1="633.3" y1="768" x2="636.9" y2="768" stroke="#000" stroke-width="1.5"/>
<line x1="633.3" y1="727.96" x2="636.9" y2="727.96" stroke="#000" stroke-width="1.5"/>
<line x1="633.3" y1="687.93" x2="636.9" y2="687.93" stroke="#000" stroke-width="1.5"/>
<line x1="633.3" y1="647.89" x2="636.9" y2="647.89" stroke="#000" stroke-width="1.5"/>
<line x1="633.3" y1="607.85" x2="636.9" y2="607.85" stroke="#000" stroke-width="1.5"/>
<line x1="633.3" y1="567.82" x2="636.9" y2="567.82" stroke="#000" stroke-width="1.5"/>
<line x1="633.3" y1="747.98" x2="635.5" y2="747.98" stroke="#000" stroke-width="1.5"/>
<line x1="633.3" y1="707.95" x2="635.5" y2="707.95" stroke="#000" stroke-width="1.5"/>
<line x1="633.3" y1="667.91" x2="635.5" y2="667.91" stroke="#000" stroke-width="1.5"/>
<line x1="633.3" y1="627.87" x2="635.5" y2="627.87" stroke="#000" stroke-width="1.5"/>
<line x1="633.3" y1="587.84" x2="635.5" y2="587.84" stroke="#000" stroke-width="1.5"/>
<line x1="77.8" y1="768" x2="77.8" y2="771.6" stroke="#000" stroke-width="1.5"/>
<line x1="170.38" y1="768" x2="170.38" y2="771.6" stroke="#000" stroke-width="1.5"/>
<line x1="262.97" y1="768" x2="262.97" y2="771.6" stroke="#000" stroke-width="1.5"/>
<line x1="355.55" y1="768" x2="355.55" y2="771.6" stroke="#000" stroke-width="1.5"/>
<line x1="448.13" y1="768" x2="448.13" y2="771.6" stroke="#000" stroke-width="1.5"/>
<line x1="540.72" y1="768" x2="540.72" y2="771.6" stroke="#000" stroke-width="1.5"/>
<line x1="633.3" y1="768" x2="633.3" y2="771.6" stroke="#000" stroke-width="1.5"/>
<line x1="124.09" y1="768" x2="124.09" y2="770.2" stroke="#000" stroke-width="1.5"/>
<line x1="216.68" y1="768" x2="216.68" y2="770.2" stroke="#000" stroke-width="1.5"/>
<line x1="309.26" y1="768" x2="309.26" y2="770.2" stroke="#000" stroke-width="1.5"/>
<line x1="401.84" y1="768" x2="401.84" y2="770.2" stroke="#000" stroke-width="1.5"/>
<line x1="494.43" y1="768" x2="494.43" y2="770.2" stroke="#000" stroke-width="1.5"/>
<line x1="587.01" y1="768" x2="587.01" y2="770.2" stroke="#000" stroke-width="1.5"/>
<text x="63.8" y="773" font-size="15.3" text-anchor="end" fill="#000" font-weight="bold" stroke="#000" stroke-width="0.3">0</text>
<text x="63.8" y="741.54" font-size="15.3" text-anchor="end" fill="#000" font-weight="bold" stroke="#000" stroke-width="0.3">100</text>
<text x="63.8" y="710.09" font-size="15.3" text-anchor="end" fill="#000" font-weight="bold" stroke="#000" stroke-width="0.3">200</text>
<text x="63.8" y="678.63" font-size="15.3" text-anchor="end" fill="#000" font-weight="bold" stroke="#000" stroke-width="0.3">300</text>
<text x="63.8" y="647.17" font-size="15.3" text-anchor="end" fill="#000" font-weight="bold" stroke="#000" stroke-width="0.3">400</text>
<text x="63.8" y="615.71" font-size="15.3" text-anchor="end" fill="#000" font-weight="bold" stroke="#000" stroke-width="0.3">500</text>
<text x="63.8" y="584.26" font-size="15.3" text-anchor="end" fill="#000" font-weight="bold" stroke="#000" stroke-width="0.3">600</text>
<text x="63.8" y="552.8" font-size="15.3" text-anchor="end" fill="#000" font-weight="bold" stroke="#000" stroke-width="0.3">700</text>
<text x="640" y="773" font-size="15.3" text-anchor="start" fill="#000" font-weight="bold" stroke="#000" stroke-width="0.3">0</text>
<text x="640" y="732.96" font-size="15.3" text-anchor="start" fill="#000" font-weight="bold" stroke="#000" stroke-width="0.3">20</text>
<text x="640" y="692.93" font-size="15.3" text-anchor="start" fill="#000" font-weight="bold" stroke="#000" stroke-width="0.3">40</text>
<text x="640" y="652.89" font-size="15.3" text-anchor="start" fill="#000" font-weight="bold" stroke="#000" stroke-width="0.3">60</text>
<text x="640" y="612.85" font-size="15.3" text-anchor="start" fill="#000" font-weight="bold" stroke="#000" stroke-width="0.3">80</text>
<text x="640" y="572.82" font-size="15.3" text-anchor="start" fill="#000" font-weight="bold" stroke="#000" stroke-width="0.3">100</text>
<text x="77.8" y="794" font-size="15.3" text-anchor="middle" fill="#000" font-weight="bold" stroke="#000" stroke-width="0.3">0</text>
<text x="170.38" y="794" font-size="15.3" text-anchor="middle" fill="#000" font-weight="bold" stroke="#000" stroke-width="0.3">200</text>
<text x="262.97" y="794" font-size="15.3" text-anchor="middle" fill="#000" font-weight="bold" stroke="#000" stroke-width="0.3">400</text>
<text x="355.55" y="794" font-size="15.3" text-anchor="middle" fill="#000" font-weight="bold" stroke="#000" stroke-width="0.3">600</text>
<text x="448.13" y="794" font-size="15.3" text-anchor="middle" fill="#000" font-weight="bold" stroke="#000" stroke-width="0.3">800</text>
<text x="540.72" y="794" font-size="15.3" text-anchor="middle" fill="#000" font-weight="bold" stroke="#000" stroke-width="0.3">1000</text>
<text x="633.3" y="794" font-size="15.3" text-anchor="middle" fill="#000" font-weight="bold" stroke="#000" stroke-width="0.3">1200</text>
<text x="34.8" y="658.2" font-size="16.1" text-anchor="middle" fill="#000" font-weight="bold" stroke="#000" stroke-width="0.3" transform="rotate(-90 34.8 658.2)">Specific capacity (mAh g<tspan dy="-6.76" font-size="13.2">-1</tspan><tspan dy="6.76">)</tspan></text>
<text x="681.5" y="658.3" font-size="16.1" text-anchor="middle" fill="#000" font-weight="bold" stroke="#000" stroke-width="0.3" transform="rotate(-90 681.5 658.3)">Columbic efficiency (%)</text>
<text x="355.2" y="812.5" font-size="16.1" text-anchor="middle" fill="#000" font-weight="bold" stroke="#000" stroke-width="0.3">Cycle number</text>
<text x="0.5" y="541.7" font-size="20" text-anchor="start" fill="#000" font-weight="bold" stroke="#000" stroke-width="0.3">(e)</text>
<rect x="82.8" y="828.2" width="551.1" height="218.2" fill="url(#gA)"/>
<clipPath id="cpF"><rect x="82.8" y="828.2" width="551.1" height="218.2"/></clipPath>
<g clip-path="url(#cpF)">
<g fill="#2A84E0">
<circle cx="83.08" cy="847.71" r="5.5"/>
<circle cx="86.66" cy="847.39" r="5.5"/>
<circle cx="90.24" cy="847.37" r="5.5"/>
<circle cx="93.82" cy="847.55" r="5.5"/>
<circle cx="97.4" cy="848.24" r="5.5"/>
<circle cx="100.99" cy="847.78" r="5.5"/>
<circle cx="104.57" cy="848.44" r="5.5"/>
<circle cx="108.15" cy="847.44" r="5.5"/>
<circle cx="111.73" cy="847.7" r="5.5"/>
<circle cx="115.31" cy="848.34" r="5.5"/>
<circle cx="118.9" cy="848.19" r="5.5"/>
<circle cx="122.48" cy="848.13" r="5.5"/>
<circle cx="126.06" cy="848.96" r="5.5"/>
<circle cx="129.64" cy="847.87" r="5.5"/>
<circle cx="133.23" cy="847.57" r="5.5"/>
<circle cx="136.81" cy="847.57" r="5.5"/>
<circle cx="140.39" cy="848.16" r="5.5"/>
<circle cx="143.97" cy="847.84" r="5.5"/>
<circle cx="147.55" cy="848.06" r="5.5"/>
<circle cx="151.14" cy="847.25" r="5.5"/>
<circle cx="154.72" cy="847.46" r="5.5"/>
<circle cx="158.3" cy="848.04" r="5.5"/>
<circle cx="161.88" cy="848.38" r="5.5"/>
<circle cx="165.47" cy="847.79" r="5.5"/>
<circle cx="169.05" cy="848.74" r="5.5"/>
<circle cx="172.63" cy="848.43" r="5.5"/>
<circle cx="176.21" cy="848.31" r="5.5"/>
<circle cx="179.79" cy="848.68" r="5.5"/>
<circle cx="183.38" cy="847.91" r="5.5"/>
<circle cx="186.96" cy="848.59" r="5.5"/>
<circle cx="190.54" cy="849.03" r="5.5"/>
<circle cx="194.12" cy="848.47" r="5.5"/>
<circle cx="197.7" cy="848.11" r="5.5"/>
<circle cx="201.29" cy="847.8" r="5.5"/>
<circle cx="204.87" cy="848.55" r="5.5"/>
<circle cx="208.45" cy="848.01" r="5.5"/>
<circle cx="212.03" cy="848.26" r="5.5"/>
<circle cx="215.62" cy="848.43" r="5.5"/>
<circle cx="219.2" cy="849.03" r="5.5"/>
<circle cx="222.78" cy="848.63" r="5.5"/>
<circle cx="226.36" cy="848.25" r="5.5"/>
<circle cx="229.94" cy="848.57" r="5.5"/>
<circle cx="233.53" cy="847.83" r="5.5"/>
<circle cx="237.11" cy="847.82" r="5.5"/>
<circle cx="240.69" cy="848.14" r="5.5"/>
<circle cx="244.27" cy="848.08" r="5.5"/>
<circle cx="247.85" cy="847.67" r="5.5"/>
<circle cx="251.44" cy="848.12" r="5.5"/>
<circle cx="255.02" cy="848.94" r="5.5"/>
<circle cx="258.6" cy="848.3" r="5.5"/>
<circle cx="262.18" cy="849.06" r="5.5"/>
<circle cx="265.77" cy="848.12" r="5.5"/>
<circle cx="269.35" cy="849.27" r="5.5"/>
<circle cx="272.93" cy="848.83" r="5.5"/>
<circle cx="276.51" cy="848.22" r="5.5"/>
<circle cx="280.09" cy="849.07" r="5.5"/>
<circle cx="283.68" cy="848.58" r="5.5"/>
<circle cx="287.26" cy="847.39" r="5.5"/>
<circle cx="290.84" cy="847.81" r="5.5"/>
<circle cx="294.42" cy="848.26" r="5.5"/>
<circle cx="298" cy="848.99" r="5.5"/>
<circle cx="301.59" cy="847.67" r="5.5"/>
<circle cx="305.17" cy="847.47" r="5.5"/>
<circle cx="308.75" cy="848.05" r="5.5"/>
<circle cx="312.33" cy="847.8" r="5.5"/>
<circle cx="315.92" cy="848.32" r="5.5"/>
<circle cx="319.5" cy="848.4" r="5.5"/>
<circle cx="323.08" cy="848.2" r="5.5"/>
<circle cx="326.66" cy="847.96" r="5.5"/>
<circle cx="330.24" cy="847.81" r="5.5"/>
<circle cx="333.83" cy="848.87" r="5.5"/>
<circle cx="337.41" cy="848.34" r="5.5"/>
<circle cx="340.99" cy="848.17" r="5.5"/>
<circle cx="344.57" cy="848.14" r="5.5"/>
<circle cx="348.15" cy="848.57" r="5.5"/>
<circle cx="351.74" cy="848.7" r="5.5"/>
<circle cx="355.32" cy="848.53" r="5.5"/>
<circle cx="358.9" cy="848.27" r="5.5"/>
<circle cx="362.48" cy="847.77" r="5.5"/>
<circle cx="366.07" cy="847.72" r="5.5"/>
<circle cx="369.65" cy="847.71" r="5.5"/>
<circle cx="373.23" cy="848.66" r="5.5"/>
<circle cx="376.81" cy="847.71" r="5.5"/>
<circle cx="380.39" cy="848.45" r="5.5"/>
<circle cx="383.98" cy="848.93" r="5.5"/>
<circle cx="387.56" cy="848.08" r="5.5"/>
<circle cx="391.14" cy="848.12" r="5.5"/>
<circle cx="394.72" cy="848.05" r="5.5"/>
<circle cx="398.3" cy="848.69" r="5.5"/>
<circle cx="401.89" cy="848.16" r="5.5"/>
<circle cx="405.47" cy="848.49" r="5.5"/>
<circle cx="409.05" cy="847.45" r="5.5"/>
<circle cx="412.63" cy="848.51" r="5.5"/>
<circle cx="416.22" cy="848.15" r="5.5"/>
<circle cx="419.8" cy="848.14" r="5.5"/>
<circle cx="423.38" cy="848.89" r="5.5"/>
<circle cx="426.96" cy="848.99" r="5.5"/>
<circle cx="430.54" cy="849.14" r="5.5"/>
<circle cx="434.13" cy="848.72" r="5.5"/>
<circle cx="437.71" cy="848.81" r="5.5"/>
<circle cx="441.29" cy="848.01" r="5.5"/>
<circle cx="444.87" cy="848.17" r="5.5"/>
<circle cx="448.45" cy="848.31" r="5.5"/>
<circle cx="452.04" cy="847.62" r="5.5"/>
<circle cx="455.62" cy="847.31" r="5.5"/>
<circle cx="459.2" cy="847.95" r="5.5"/>
<circle cx="462.78" cy="848.41" r="5.5"/>
<circle cx="466.37" cy="848.39" r="5.5"/>
<circle cx="469.95" cy="847.35" r="5.5"/>
<circle cx="473.53" cy="847.91" r="5.5"/>
<circle cx="477.11" cy="847.74" r="5.5"/>
<circle cx="480.69" cy="847.72" r="5.5"/>
<circle cx="484.28" cy="848.69" r="5.5"/>
<circle cx="487.86" cy="847.96" r="5.5"/>
<circle cx="491.44" cy="847.89" r="5.5"/>
<circle cx="495.02" cy="848" r="5.5"/>
<circle cx="498.6" cy="848.13" r="5.5"/>
<circle cx="502.19" cy="848.51" r="5.5"/>
<circle cx="505.77" cy="848.19" r="5.5"/>
<circle cx="509.35" cy="847.97" r="5.5"/>
<circle cx="512.93" cy="848.03" r="5.5"/>
<circle cx="516.52" cy="848.07" r="5.5"/>
<circle cx="520.1" cy="848.78" r="5.5"/>
<circle cx="523.68" cy="847.68" r="5.5"/>
<circle cx="527.26" cy="848.57" r="5.5"/>
<circle cx="530.84" cy="847.67" r="5.5"/>
<circle cx="534.43" cy="848.74" r="5.5"/>
<circle cx="538.01" cy="848.01" r="5.5"/>
<circle cx="541.59" cy="848.75" r="5.5"/>
<circle cx="545.17" cy="848.28" r="5.5"/>
<circle cx="548.76" cy="847.97" r="5.5"/>
<circle cx="552.34" cy="847.82" r="5.5"/>
<circle cx="555.92" cy="848.73" r="5.5"/>
<circle cx="559.5" cy="848.16" r="5.5"/>
<circle cx="563.08" cy="848" r="5.5"/>
<circle cx="566.67" cy="847.74" r="5.5"/>
<circle cx="570.25" cy="848.28" r="5.5"/>
<circle cx="573.83" cy="847.96" r="5.5"/>
<circle cx="577.41" cy="847.48" r="5.5"/>
<circle cx="580.99" cy="848.18" r="5.5"/>
<circle cx="584.58" cy="847.94" r="5.5"/>
<circle cx="588.16" cy="848.78" r="5.5"/>
<circle cx="591.74" cy="848.5" r="5.5"/>
<circle cx="595.32" cy="848.71" r="5.5"/>
<circle cx="598.91" cy="847.77" r="5.5"/>
<circle cx="602.49" cy="848.69" r="5.5"/>
<circle cx="606.07" cy="848.55" r="5.5"/>
<circle cx="609.65" cy="848.74" r="5.5"/>
<circle cx="613.23" cy="848.81" r="5.5"/>
<circle cx="616.82" cy="848.22" r="5.5"/>
<circle cx="620.4" cy="848.38" r="5.5"/>
<circle cx="623.98" cy="848.67" r="5.5"/>
<circle cx="627.56" cy="847.86" r="5.5"/>
<circle cx="631.14" cy="848.33" r="5.5"/>
<circle cx="633.9" cy="848.81" r="5.5"/>
</g>
<g fill="#FF6A5C">
<circle cx="83.08" cy="848.51" r="5.7"/>
<circle cx="86.66" cy="847.31" r="5.7"/>
<circle cx="90.24" cy="847.14" r="5.7"/>
<circle cx="93.82" cy="848.43" r="5.7"/>
<circle cx="97.4" cy="848.31" r="5.7"/>
<circle cx="100.99" cy="848.43" r="5.7"/>
<circle cx="104.57" cy="848.64" r="5.7"/>
<circle cx="108.15" cy="848.04" r="5.7"/>
<circle cx="111.73" cy="847.73" r="5.7"/>
<circle cx="115.31" cy="847.95" r="5.7"/>
<circle cx="118.9" cy="848.94" r="5.7"/>
<circle cx="122.48" cy="849.06" r="5.7"/>
<circle cx="126.06" cy="847.64" r="5.7"/>
<circle cx="129.64" cy="847.82" r="5.7"/>
<circle cx="133.23" cy="847.76" r="5.7"/>
<circle cx="136.81" cy="848.48" r="5.7"/>
<circle cx="140.39" cy="847.18" r="5.7"/>
<circle cx="143.97" cy="848.8" r="5.7"/>
<circle cx="147.55" cy="847.7" r="5.7"/>
<circle cx="151.14" cy="848.16" r="5.7"/>
<circle cx="154.72" cy="847.53" r="5.7"/>
<circle cx="158.3" cy="847.53" r="5.7"/>
<circle cx="161.88" cy="848.58" r="5.7"/>
<circle cx="165.47" cy="847.77" r="5.7"/>
<circle cx="169.05" cy="848.23" r="5.7"/>
<circle cx="172.63" cy="848.01" r="5.7"/>
<circle cx="176.21" cy="847.82" r="5.7"/>
<circle cx="179.79" cy="846.8" r="5.7"/>
<circle cx="183.38" cy="847.38" r="5.7"/>
<circle cx="186.96" cy="848.08" r="5.7"/>
<circle cx="190.54" cy="847.54" r="5.7"/>
<circle cx="194.12" cy="846.88" r="5.7"/>
<circle cx="197.7" cy="847.31" r="5.7"/>
<circle cx="201.29" cy="848.81" r="5.7"/>
<circle cx="204.87" cy="848.86" r="5.7"/>
<circle cx="208.45" cy="847.82" r="5.7"/>
<circle cx="212.03" cy="848.07" r="5.7"/>
<circle cx="215.62" cy="848.6" r="5.7"/>
<circle cx="219.2" cy="848.29" r="5.7"/>
<circle cx="222.78" cy="847.63" r="5.7"/>
<circle cx="226.36" cy="848.75" r="5.7"/>
<circle cx="229.94" cy="848.12" r="5.7"/>
<circle cx="233.53" cy="847.84" r="5.7"/>
<circle cx="237.11" cy="847.18" r="5.7"/>
<circle cx="240.69" cy="847.8" r="5.7"/>
<circle cx="244.27" cy="848.27" r="5.7"/>
<circle cx="247.85" cy="847.5" r="5.7"/>
<circle cx="251.44" cy="847.41" r="5.7"/>
<circle cx="255.02" cy="848.52" r="5.7"/>
<circle cx="258.6" cy="848.56" r="5.7"/>
<circle cx="262.18" cy="847.58" r="5.7"/>
<circle cx="265.77" cy="847.92" r="5.7"/>
<circle cx="269.35" cy="848.05" r="5.7"/>
<circle cx="272.93" cy="847.7" r="5.7"/>
<circle cx="276.51" cy="847.06" r="5.7"/>
<circle cx="280.09" cy="847.13" r="5.7"/>
<circle cx="283.68" cy="847.01" r="5.7"/>
<circle cx="287.26" cy="846.98" r="5.7"/>
<circle cx="290.84" cy="846.89" r="5.7"/>
<circle cx="294.42" cy="847.57" r="5.7"/>
<circle cx="298" cy="847.5" r="5.7"/>
<circle cx="301.59" cy="848.54" r="5.7"/>
<circle cx="305.17" cy="847.93" r="5.7"/>
<circle cx="308.75" cy="849.21" r="5.7"/>
<circle cx="312.33" cy="849.16" r="5.7"/>
<circle cx="315.92" cy="848.16" r="5.7"/>
<circle cx="319.5" cy="847.92" r="5.7"/>
<circle cx="323.08" cy="848.36" r="5.7"/>
<circle cx="326.66" cy="848.17" r="5.7"/>
<circle cx="330.24" cy="848.2" r="5.7"/>
<circle cx="333.83" cy="847.33" r="5.7"/>
<circle cx="337.41" cy="848.06" r="5.7"/>
<circle cx="340.99" cy="848.42" r="5.7"/>
<circle cx="344.57" cy="847.94" r="5.7"/>
<circle cx="348.15" cy="847.82" r="5.7"/>
<circle cx="351.74" cy="848.97" r="5.7"/>
<circle cx="355.32" cy="847.79" r="5.7"/>
<circle cx="358.9" cy="848.93" r="5.7"/>
<circle cx="362.48" cy="848.17" r="5.7"/>
<circle cx="366.07" cy="846.93" r="5.7"/>
<circle cx="369.65" cy="847.75" r="5.7"/>
<circle cx="373.23" cy="847.2" r="5.7"/>
<circle cx="376.81" cy="848.32" r="5.7"/>
<circle cx="380.39" cy="847.93" r="5.7"/>
<circle cx="383.98" cy="847.42" r="5.7"/>
<circle cx="387.56" cy="849.1" r="5.7"/>
<circle cx="391.14" cy="849.13" r="5.7"/>
<circle cx="394.72" cy="848.67" r="5.7"/>
<circle cx="398.3" cy="848.45" r="5.7"/>
<circle cx="401.89" cy="847.46" r="5.7"/>
<circle cx="405.47" cy="848.73" r="5.7"/>
<circle cx="409.05" cy="847.65" r="5.7"/>
<circle cx="412.63" cy="847.73" r="5.7"/>
<circle cx="416.22" cy="847.61" r="5.7"/>
<circle cx="419.8" cy="847.75" r="5.7"/>
<circle cx="423.38" cy="847.06" r="5.7"/>
<circle cx="426.96" cy="848.6" r="5.7"/>
<circle cx="430.54" cy="848.09" r="5.7"/>
<circle cx="434.13" cy="847.97" r="5.7"/>
<circle cx="437.71" cy="848.97" r="5.7"/>
<circle cx="441.29" cy="848.87" r="5.7"/>
<circle cx="444.87" cy="848.59" r="5.7"/>
<circle cx="448.45" cy="848.84" r="5.7"/>
<circle cx="452.04" cy="847.87" r="5.7"/>
<circle cx="455.62" cy="847.46" r="5.7"/>
<circle cx="456.72" cy="847.87" r="5.7"/>
</g>
<g fill="url(#mR)">
<circle cx="83.08" cy="953.85" r="5.4"/>
<circle cx="86.66" cy="954.59" r="5.4"/>
<circle cx="90.24" cy="954.87" r="5.4"/>
<circle cx="93.82" cy="955.24" r="5.4"/>
<circle cx="97.4" cy="956.53" r="5.4"/>
<circle cx="100.99" cy="957.07" r="5.4"/>
<circle cx="104.57" cy="957.57" r="5.4"/>
<circle cx="108.15" cy="956.52" r="5.4"/>
<circle cx="111.73" cy="958.02" r="5.4"/>
<circle cx="115.31" cy="959.26" r="5.4"/>
<circle cx="118.9" cy="959.2" r="5.4"/>
<circle cx="122.48" cy="959.4" r="5.4"/>
<circle cx="126.06" cy="959.96" r="5.4"/>
<circle cx="129.64" cy="960.34" r="5.4"/>
<circle cx="133.23" cy="962.21" r="5.4"/>
<circle cx="136.81" cy="963.47" r="5.4"/>
<circle cx="140.39" cy="963.54" r="5.4"/>
<circle cx="143.97" cy="965.75" r="5.4"/>
<circle cx="147.55" cy="967.78" r="5.4"/>
<circle cx="151.14" cy="968.16" r="5.4"/>
<circle cx="154.72" cy="969.06" r="5.4"/>
<circle cx="158.3" cy="970.05" r="5.4"/>
<circle cx="161.88" cy="970.07" r="5.4"/>
<circle cx="165.47" cy="969.28" r="5.4"/>
<circle cx="169.05" cy="969.56" r="5.4"/>
<circle cx="172.63" cy="971" r="5.4"/>
<circle cx="176.21" cy="971.39" r="5.4"/>
<circle cx="179.79" cy="971.97" r="5.4"/>
<circle cx="183.38" cy="972.6" r="5.4"/>
<circle cx="186.96" cy="972.29" r="5.4"/>
<circle cx="190.54" cy="973.49" r="5.4"/>
<circle cx="194.12" cy="973.2" r="5.4"/>
<circle cx="197.7" cy="974.71" r="5.4"/>
<circle cx="201.29" cy="974.86" r="5.4"/>
<circle cx="204.87" cy="974.55" r="5.4"/>
<circle cx="208.45" cy="974.97" r="5.4"/>
<circle cx="212.03" cy="975.53" r="5.4"/>
<circle cx="215.62" cy="975.1" r="5.4"/>
<circle cx="219.2" cy="975.42" r="5.4"/>
<circle cx="222.78" cy="976.15" r="5.4"/>
<circle cx="226.36" cy="975.74" r="5.4"/>
<circle cx="229.94" cy="976.75" r="5.4"/>
<circle cx="233.53" cy="978.18" r="5.4"/>
<circle cx="237.11" cy="978.19" r="5.4"/>
<circle cx="240.69" cy="977" r="5.4"/>
<circle cx="244.27" cy="978.66" r="5.4"/>
<circle cx="247.85" cy="978.86" r="5.4"/>
<circle cx="251.44" cy="979.15" r="5.4"/>
<circle cx="255.02" cy="978.47" r="5.4"/>
<circle cx="258.6" cy="980.04" r="5.4"/>
<circle cx="262.18" cy="979.43" r="5.4"/>
<circle cx="265.77" cy="980.89" r="5.4"/>
<circle cx="269.35" cy="980.71" r="5.4"/>
<circle cx="272.93" cy="981.33" r="5.4"/>
<circle cx="276.51" cy="981.21" r="5.4"/>
<circle cx="280.09" cy="982.48" r="5.4"/>
<circle cx="283.68" cy="981.34" r="5.4"/>
<circle cx="287.26" cy="982.33" r="5.4"/>
<circle cx="290.84" cy="981.98" r="5.4"/>
<circle cx="294.42" cy="981.47" r="5.4"/>
<circle cx="298" cy="982.57" r="5.4"/>
<circle cx="301.59" cy="982.4" r="5.4"/>
<circle cx="305.17" cy="981.88" r="5.4"/>
<circle cx="308.75" cy="983.49" r="5.4"/>
<circle cx="312.33" cy="983.03" r="5.4"/>
<circle cx="315.92" cy="982.64" r="5.4"/>
<circle cx="319.5" cy="984.06" r="5.4"/>
<circle cx="323.08" cy="984.07" r="5.4"/>
<circle cx="326.66" cy="983.76" r="5.4"/>
<circle cx="330.24" cy="983.65" r="5.4"/>
<circle cx="333.83" cy="984.81" r="5.4"/>
<circle cx="337.41" cy="984.77" r="5.4"/>
<circle cx="340.99" cy="985.02" r="5.4"/>
<circle cx="344.57" cy="984.81" r="5.4"/>
<circle cx="348.15" cy="985.15" r="5.4"/>
<circle cx="351.74" cy="985.58" r="5.4"/>
<circle cx="355.32" cy="984.6" r="5.4"/>
<circle cx="358.9" cy="984.75" r="5.4"/>
<circle cx="362.48" cy="985.47" r="5.4"/>
<circle cx="366.07" cy="986.01" r="5.4"/>
<circle cx="369.65" cy="986.18" r="5.4"/>
<circle cx="373.23" cy="986.14" r="5.4"/>
<circle cx="376.81" cy="985.67" r="5.4"/>
<circle cx="380.39" cy="986.16" r="5.4"/>
<circle cx="383.98" cy="985.1" r="5.4"/>
<circle cx="387.56" cy="985.71" r="5.4"/>
<circle cx="391.14" cy="985.5" r="5.4"/>
<circle cx="394.72" cy="986.96" r="5.4"/>
<circle cx="398.3" cy="987.52" r="5.4"/>
<circle cx="401.89" cy="986.67" r="5.4"/>
<circle cx="405.47" cy="986.8" r="5.4"/>
<circle cx="409.05" cy="985.75" r="5.4"/>
<circle cx="412.63" cy="986.53" r="5.4"/>
<circle cx="416.22" cy="985.41" r="5.4"/>
<circle cx="419.8" cy="985.85" r="5.4"/>
<circle cx="423.38" cy="985.84" r="5.4"/>
<circle cx="426.96" cy="987.18" r="5.4"/>
<circle cx="430.54" cy="986.18" r="5.4"/>
<circle cx="434.13" cy="986.55" r="5.4"/>
<circle cx="437.71" cy="986.69" r="5.4"/>
<circle cx="441.29" cy="988.31" r="5.4"/>
<circle cx="444.87" cy="987.63" r="5.4"/>
<circle cx="448.45" cy="989.29" r="5.4"/>
<circle cx="452.04" cy="988.41" r="5.4"/>
<circle cx="455.62" cy="989.89" r="5.4"/>
<circle cx="456.72" cy="989.14" r="5.4"/>
</g>
<g fill="url(#mB)">
<circle cx="83.08" cy="928.71" r="5.7"/>
<circle cx="86.66" cy="929.46" r="5.7"/>
<circle cx="90.24" cy="930.44" r="5.7"/>
<circle cx="93.82" cy="930" r="5.7"/>
<circle cx="97.4" cy="930.03" r="5.7"/>
<circle cx="100.99" cy="930.07" r="5.7"/>
<circle cx="104.57" cy="931.58" r="5.7"/>
<circle cx="108.15" cy="930.87" r="5.7"/>
<circle cx="111.73" cy="932.67" r="5.7"/>
<circle cx="115.31" cy="932.65" r="5.7"/>
<circle cx="118.9" cy="930.83" r="5.7"/>
<circle cx="122.48" cy="931.76" r="5.7"/>
<circle cx="126.06" cy="933.17" r="5.7"/>
<circle cx="129.64" cy="932.47" r="5.7"/>
<circle cx="133.23" cy="932.73" r="5.7"/>
<circle cx="136.81" cy="935.09" r="5.7"/>
<circle cx="140.39" cy="934.53" r="5.7"/>
<circle cx="143.97" cy="934.84" r="5.7"/>
<circle cx="147.55" cy="935.93" r="5.7"/>
<circle cx="151.14" cy="935.96" r="5.7"/>
<circle cx="154.72" cy="934.26" r="5.7"/>
<circle cx="158.3" cy="933.98" r="5.7"/>
<circle cx="161.88" cy="934.42" r="5.7"/>
<circle cx="165.47" cy="934.24" r="5.7"/>
<circle cx="169.05" cy="933.9" r="5.7"/>
<circle cx="172.63" cy="934.87" r="5.7"/>
<circle cx="176.21" cy="935.21" r="5.7"/>
<circle cx="179.79" cy="936.56" r="5.7"/>
<circle cx="183.38" cy="934.73" r="5.7"/>
<circle cx="186.96" cy="935.9" r="5.7"/>
<circle cx="190.54" cy="936.44" r="5.7"/>
<circle cx="194.12" cy="938.17" r="5.7"/>
<circle cx="197.7" cy="936.97" r="5.7"/>
<circle cx="201.29" cy="936.69" r="5.7"/>
<circle cx="204.87" cy="936.76" r="5.7"/>
<circle cx="208.45" cy="936.27" r="5.7"/>
<circle cx="212.03" cy="935.45" r="5.7"/>
<circle cx="215.62" cy="935.22" r="5.7"/>
<circle cx="219.2" cy="936.9" r="5.7"/>
<circle cx="222.78" cy="935.82" r="5.7"/>
<circle cx="226.36" cy="936.82" r="5.7"/>
<circle cx="229.94" cy="936.06" r="5.7"/>
<circle cx="233.53" cy="934.83" r="5.7"/>
<circle cx="237.11" cy="937.12" r="5.7"/>
<circle cx="240.69" cy="936.76" r="5.7"/>
<circle cx="244.27" cy="937.54" r="5.7"/>
<circle cx="247.85" cy="937.81" r="5.7"/>
<circle cx="251.44" cy="937.98" r="5.7"/>
<circle cx="255.02" cy="936.71" r="5.7"/>
<circle cx="258.6" cy="937.81" r="5.7"/>
<circle cx="262.18" cy="937.78" r="5.7"/>
<circle cx="265.77" cy="938.51" r="5.7"/>
<circle cx="269.35" cy="937.55" r="5.7"/>
<circle cx="272.93" cy="938.12" r="5.7"/>
<circle cx="276.51" cy="939.57" r="5.7"/>
<circle cx="280.09" cy="937.69" r="5.7"/>
<circle cx="283.68" cy="938.9" r="5.7"/>
<circle cx="287.26" cy="938.13" r="5.7"/>
<circle cx="290.84" cy="938.05" r="5.7"/>
<circle cx="294.42" cy="939.32" r="5.7"/>
<circle cx="298" cy="939.59" r="5.7"/>
<circle cx="301.59" cy="938.58" r="5.7"/>
<circle cx="305.17" cy="939.19" r="5.7"/>
<circle cx="308.75" cy="937.78" r="5.7"/>
<circle cx="312.33" cy="937.78" r="5.7"/>
<circle cx="315.92" cy="939.28" r="5.7"/>
<circle cx="319.5" cy="938.24" r="5.7"/>
<circle cx="323.08" cy="937.98" r="5.7"/>
<circle cx="326.66" cy="938.6" r="5.7"/>
<circle cx="330.24" cy="937.11" r="5.7"/>
<circle cx="333.83" cy="938.53" r="5.7"/>
<circle cx="337.41" cy="938.68" r="5.7"/>
<circle cx="340.99" cy="939.67" r="5.7"/>
<circle cx="344.57" cy="938.36" r="5.7"/>
<circle cx="348.15" cy="940.51" r="5.7"/>
<circle cx="351.74" cy="938.27" r="5.7"/>
<circle cx="355.32" cy="938.42" r="5.7"/>
<circle cx="358.9" cy="939.62" r="5.7"/>
<circle cx="362.48" cy="939.8" r="5.7"/>
<circle cx="366.07" cy="938.93" r="5.7"/>
<circle cx="369.65" cy="938.6" r="5.7"/>
<circle cx="373.23" cy="940.23" r="5.7"/>
<circle cx="376.81" cy="938.46" r="5.7"/>
<circle cx="380.39" cy="939.37" r="5.7"/>
<circle cx="383.98" cy="939.21" r="5.7"/>
<circle cx="387.56" cy="938.46" r="5.7"/>
<circle cx="391.14" cy="938.46" r="5.7"/>
<circle cx="394.72" cy="937.83" r="5.7"/>
<circle cx="398.3" cy="938.7" r="5.7"/>
<circle cx="401.89" cy="936.95" r="5.7"/>
<circle cx="405.47" cy="937.77" r="5.7"/>
<circle cx="409.05" cy="936.26" r="5.7"/>
<circle cx="412.63" cy="936.54" r="5.7"/>
<circle cx="416.22" cy="937.6" r="5.7"/>
<circle cx="419.8" cy="937.12" r="5.7"/>
<circle cx="423.38" cy="937.54" r="5.7"/>
<circle cx="426.96" cy="938.87" r="5.7"/>
<circle cx="430.54" cy="937.36" r="5.7"/>
<circle cx="434.13" cy="938.78" r="5.7"/>
<circle cx="437.71" cy="940.45" r="5.7"/>
<circle cx="441.29" cy="940.54" r="5.7"/>
<circle cx="444.87" cy="938.49" r="5.7"/>
<circle cx="448.45" cy="938.97" r="5.7"/>
<circle cx="452.04" cy="939.09" r="5.7"/>
<circle cx="455.62" cy="941.11" r="5.7"/>
<circle cx="459.2" cy="941.15" r="5.7"/>
<circle cx="462.78" cy="941.51" r="5.7"/>
<circle cx="466.37" cy="940.67" r="5.7"/>
<circle cx="469.95" cy="940.42" r="5.7"/>
<circle cx="473.53" cy="942.25" r="5.7"/>
<circle cx="477.11" cy="942.23" r="5.7"/>
<circle cx="480.69" cy="942.43" r="5.7"/>
<circle cx="484.28" cy="943.7" r="5.7"/>
<circle cx="487.86" cy="942.88" r="5.7"/>
<circle cx="491.44" cy="941.46" r="5.7"/>
<circle cx="495.02" cy="943.74" r="5.7"/>
<circle cx="498.6" cy="942.59" r="5.7"/>
<circle cx="502.19" cy="943.89" r="5.7"/>
<circle cx="505.77" cy="944.64" r="5.7"/>
<circle cx="509.35" cy="942.89" r="5.7"/>
<circle cx="512.93" cy="943.14" r="5.7"/>
<circle cx="516.52" cy="943.11" r="5.7"/>
<circle cx="520.1" cy="944.28" r="5.7"/>
<circle cx="523.68" cy="943.67" r="5.7"/>
<circle cx="527.26" cy="944.64" r="5.7"/>
<circle cx="530.84" cy="945.14" r="5.7"/>
<circle cx="534.43" cy="944.04" r="5.7"/>
<circle cx="538.01" cy="945.1" r="5.7"/>
<circle cx="541.59" cy="944.35" r="5.7"/>
<circle cx="545.17" cy="945.2" r="5.7"/>
<circle cx="548.76" cy="946.64" r="5.7"/>
<circle cx="552.34" cy="946.28" r="5.7"/>
<circle cx="555.92" cy="944.25" r="5.7"/>
<circle cx="559.5" cy="944.69" r="5.7"/>
<circle cx="563.08" cy="944.41" r="5.7"/>
<circle cx="566.67" cy="943.93" r="5.7"/>
<circle cx="570.25" cy="945.42" r="5.7"/>
<circle cx="573.83" cy="944.85" r="5.7"/>
<circle cx="577.41" cy="944.11" r="5.7"/>
<circle cx="580.99" cy="945.41" r="5.7"/>
<circle cx="584.58" cy="945.47" r="5.7"/>
<circle cx="588.16" cy="945.28" r="5.7"/>
<circle cx="591.74" cy="944.31" r="5.7"/>
<circle cx="595.32" cy="944.85" r="5.7"/>
<circle cx="598.91" cy="947.11" r="5.7"/>
<circle cx="602.49" cy="947.27" r="5.7"/>
<circle cx="606.07" cy="946.65" r="5.7"/>
<circle cx="609.65" cy="947.62" r="5.7"/>
<circle cx="613.23" cy="947.33" r="5.7"/>
<circle cx="616.82" cy="946.31" r="5.7"/>
<circle cx="620.4" cy="946.13" r="5.7"/>
<circle cx="623.98" cy="946.23" r="5.7"/>
<circle cx="627.56" cy="947.64" r="5.7"/>
<circle cx="631.14" cy="947.38" r="5.7"/>
<circle cx="633.9" cy="947.16" r="5.7"/>
</g>
</g>
<circle cx="119.7" cy="881.8" r="5.5" fill="url(#mB)"/>
<circle cx="119.7" cy="905.2" r="5.5" fill="url(#mR)"/>
<text x="138.8" y="887.8" font-size="15.9" text-anchor="start" fill="#000" font-weight="bold" stroke="#000" stroke-width="0.3">V<tspan dy="3.5" font-size="10.81">2</tspan><tspan dy="-3.5">CT</tspan><tspan dy="3.5" font-size="10.81">x</tspan><tspan dy="-3.5">-MXene@Zn//NHG</tspan></text>
<text x="138.8" y="911.1" font-size="15.9" text-anchor="start" fill="#000" font-weight="bold" stroke="#000" stroke-width="0.3">Bare Zn//NHG</text>
<text x="97.1" y="1035.5" font-size="16" text-anchor="start" fill="#000" font-weight="bold" stroke="#000" stroke-width="0.3">Current density: 5.0 A g<tspan dy="-6.08" font-size="10.88">-1</tspan><tspan dy="6.08"></tspan></text>
<text x="592.5" y="914.1" font-size="16" text-anchor="middle" fill="#2E8BE0" font-weight="bold" stroke="#2E8BE0" stroke-width="0.3">86.64 %</text>
<line x1="597.1" y1="920.3" x2="620.27" y2="932.96" stroke="#2E8BE0" stroke-width="1.3"/>
<path d="M625.1 935.6 L618.15 934.76 L620.64 930.2 Z" fill="#2E8BE0"/>
<text x="386.6" y="1026.1" font-size="16" text-anchor="middle" fill="#F4675A" font-weight="bold" stroke="#F4675A" stroke-width="0.3">61.42 %</text>
<line x1="415" y1="1016" x2="445.1" y2="1002.19" stroke="#F4675A" stroke-width="1.3"/>
<path d="M450.1 999.9 L445.28 1004.97 L443.11 1000.25 Z" fill="#F4675A"/>
<rect x="82.8" y="828.2" width="551.1" height="218.2" fill="none" stroke="#000" stroke-width="1.7"/>
<line x1="82.8" y1="1046.4" x2="79.2" y2="1046.4" stroke="#000" stroke-width="1.5"/>
<line x1="82.8" y1="1002.76" x2="79.2" y2="1002.76" stroke="#000" stroke-width="1.5"/>
<line x1="82.8" y1="959.12" x2="79.2" y2="959.12" stroke="#000" stroke-width="1.5"/>
<line x1="82.8" y1="915.48" x2="79.2" y2="915.48" stroke="#000" stroke-width="1.5"/>
<line x1="82.8" y1="871.84" x2="79.2" y2="871.84" stroke="#000" stroke-width="1.5"/>
<line x1="82.8" y1="828.2" x2="79.2" y2="828.2" stroke="#000" stroke-width="1.5"/>
<line x1="82.8" y1="1024.58" x2="80.6" y2="1024.58" stroke="#000" stroke-width="1.5"/>
<line x1="82.8" y1="980.94" x2="80.6" y2="980.94" stroke="#000" stroke-width="1.5"/>
<line x1="82.8" y1="937.3" x2="80.6" y2="937.3" stroke="#000" stroke-width="1.5"/>
<line x1="82.8" y1="893.66" x2="80.6" y2="893.66" stroke="#000" stroke-width="1.5"/>
<line x1="82.8" y1="850.02" x2="80.6" y2="850.02" stroke="#000" stroke-width="1.5"/>
<line x1="633.9" y1="1046.4" x2="637.5" y2="1046.4" stroke="#000" stroke-width="1.5"/>
<line x1="633.9" y1="1006.73" x2="637.5" y2="1006.73" stroke="#000" stroke-width="1.5"/>
<line x1="633.9" y1="967.05" x2="637.5" y2="967.05" stroke="#000" stroke-width="1.5"/>
<line x1="633.9" y1="927.38" x2="637.5" y2="927.38" stroke="#000" stroke-width="1.5"/>
<line x1="633.9" y1="887.71" x2="637.5" y2="887.71" stroke="#000" stroke-width="1.5"/>
<line x1="633.9" y1="848.04" x2="637.5" y2="848.04" stroke="#000" stroke-width="1.5"/>
<line x1="633.9" y1="1026.56" x2="636.1" y2="1026.56" stroke="#000" stroke-width="1.5"/>
<line x1="633.9" y1="986.89" x2="636.1" y2="986.89" stroke="#000" stroke-width="1.5"/>
<line x1="633.9" y1="947.22" x2="636.1" y2="947.22" stroke="#000" stroke-width="1.5"/>
<line x1="633.9" y1="907.55" x2="636.1" y2="907.55" stroke="#000" stroke-width="1.5"/>
<line x1="633.9" y1="867.87" x2="636.1" y2="867.87" stroke="#000" stroke-width="1.5"/>
<line x1="82.8" y1="1046.4" x2="82.8" y2="1050" stroke="#000" stroke-width="1.5"/>
<line x1="193.02" y1="1046.4" x2="193.02" y2="1050" stroke="#000" stroke-width="1.5"/>
<line x1="303.24" y1="1046.4" x2="303.24" y2="1050" stroke="#000" stroke-width="1.5"/>
<line x1="413.46" y1="1046.4" x2="413.46" y2="1050" stroke="#000" stroke-width="1.5"/>
<line x1="523.68" y1="1046.4" x2="523.68" y2="1050" stroke="#000" stroke-width="1.5"/>
<line x1="633.9" y1="1046.4" x2="633.9" y2="1050" stroke="#000" stroke-width="1.5"/>
<line x1="137.91" y1="1046.4" x2="137.91" y2="1048.6" stroke="#000" stroke-width="1.5"/>
<line x1="248.13" y1="1046.4" x2="248.13" y2="1048.6" stroke="#000" stroke-width="1.5"/>
<line x1="358.35" y1="1046.4" x2="358.35" y2="1048.6" stroke="#000" stroke-width="1.5"/>
<line x1="468.57" y1="1046.4" x2="468.57" y2="1048.6" stroke="#000" stroke-width="1.5"/>
<line x1="578.79" y1="1046.4" x2="578.79" y2="1048.6" stroke="#000" stroke-width="1.5"/>
<text x="69.2" y="1051.4" font-size="15.3" text-anchor="end" fill="#000" font-weight="bold" stroke="#000" stroke-width="0.3">0</text>
<text x="69.2" y="1007.76" font-size="15.3" text-anchor="end" fill="#000" font-weight="bold" stroke="#000" stroke-width="0.3">100</text>
<text x="69.2" y="964.12" font-size="15.3" text-anchor="end" fill="#000" font-weight="bold" stroke="#000" stroke-width="0.3">200</text>
<text x="69.2" y="920.48" font-size="15.3" text-anchor="end" fill="#000" font-weight="bold" stroke="#000" stroke-width="0.3">300</text>
<text x="69.2" y="876.84" font-size="15.3" text-anchor="end" fill="#000" font-weight="bold" stroke="#000" stroke-width="0.3">400</text>
<text x="69.2" y="833.2" font-size="15.3" text-anchor="end" fill="#000" font-weight="bold" stroke="#000" stroke-width="0.3">500</text>
<text x="640.5" y="1051.4" font-size="15.3" text-anchor="start" fill="#000" font-weight="bold" stroke="#000" stroke-width="0.3">0</text>
<text x="640.5" y="1011.73" font-size="15.3" text-anchor="start" fill="#000" font-weight="bold" stroke="#000" stroke-width="0.3">20</text>
<text x="640.5" y="972.05" font-size="15.3" text-anchor="start" fill="#000" font-weight="bold" stroke="#000" stroke-width="0.3">40</text>
<text x="640.5" y="932.38" font-size="15.3" text-anchor="start" fill="#000" font-weight="bold" stroke="#000" stroke-width="0.3">60</text>
<text x="640.5" y="892.71" font-size="15.3" text-anchor="start" fill="#000" font-weight="bold" stroke="#000" stroke-width="0.3">80</text>
<text x="640.5" y="853.04" font-size="15.3" text-anchor="start" fill="#000" font-weight="bold" stroke="#000" stroke-width="0.3">100</text>
<text x="82.8" y="1072.5" font-size="15.3" text-anchor="middle" fill="#000" font-weight="bold" stroke="#000" stroke-width="0.3">0</text>
<text x="193.02" y="1072.5" font-size="15.3" text-anchor="middle" fill="#000" font-weight="bold" stroke="#000" stroke-width="0.3">400</text>
<text x="303.24" y="1072.5" font-size="15.3" text-anchor="middle" fill="#000" font-weight="bold" stroke="#000" stroke-width="0.3">800</text>
<text x="413.46" y="1072.5" font-size="15.3" text-anchor="middle" fill="#000" font-weight="bold" stroke="#000" stroke-width="0.3">1200</text>
<text x="523.68" y="1072.5" font-size="15.3" text-anchor="middle" fill="#000" font-weight="bold" stroke="#000" stroke-width="0.3">1600</text>
<text x="633.9" y="1072.5" font-size="15.3" text-anchor="middle" fill="#000" font-weight="bold" stroke="#000" stroke-width="0.3">2000</text>
<text x="40.3" y="937.6" font-size="16.1" text-anchor="middle" fill="#000" font-weight="bold" stroke="#000" stroke-width="0.3" transform="rotate(-90 40.3 937.6)">Specific capacity (mAh g<tspan dy="-7.25" font-size="13.69">-1</tspan><tspan dy="7.25">)</tspan></text>
<text x="681.5" y="937.8" font-size="16.15" text-anchor="middle" fill="#000" font-weight="bold" stroke="#000" stroke-width="0.3" transform="rotate(-90 681.5 937.8)">Columbic efficiency (%)</text>
<text x="358.2" y="1090.5" font-size="16" text-anchor="middle" fill="#000" font-weight="bold" stroke="#000" stroke-width="0.3">Cycle number</text>
<text x="1.2" y="822.8" font-size="20" text-anchor="start" fill="#000" font-weight="bold" stroke="#000" stroke-width="0.3">(f)</text>
</svg></body></html>
